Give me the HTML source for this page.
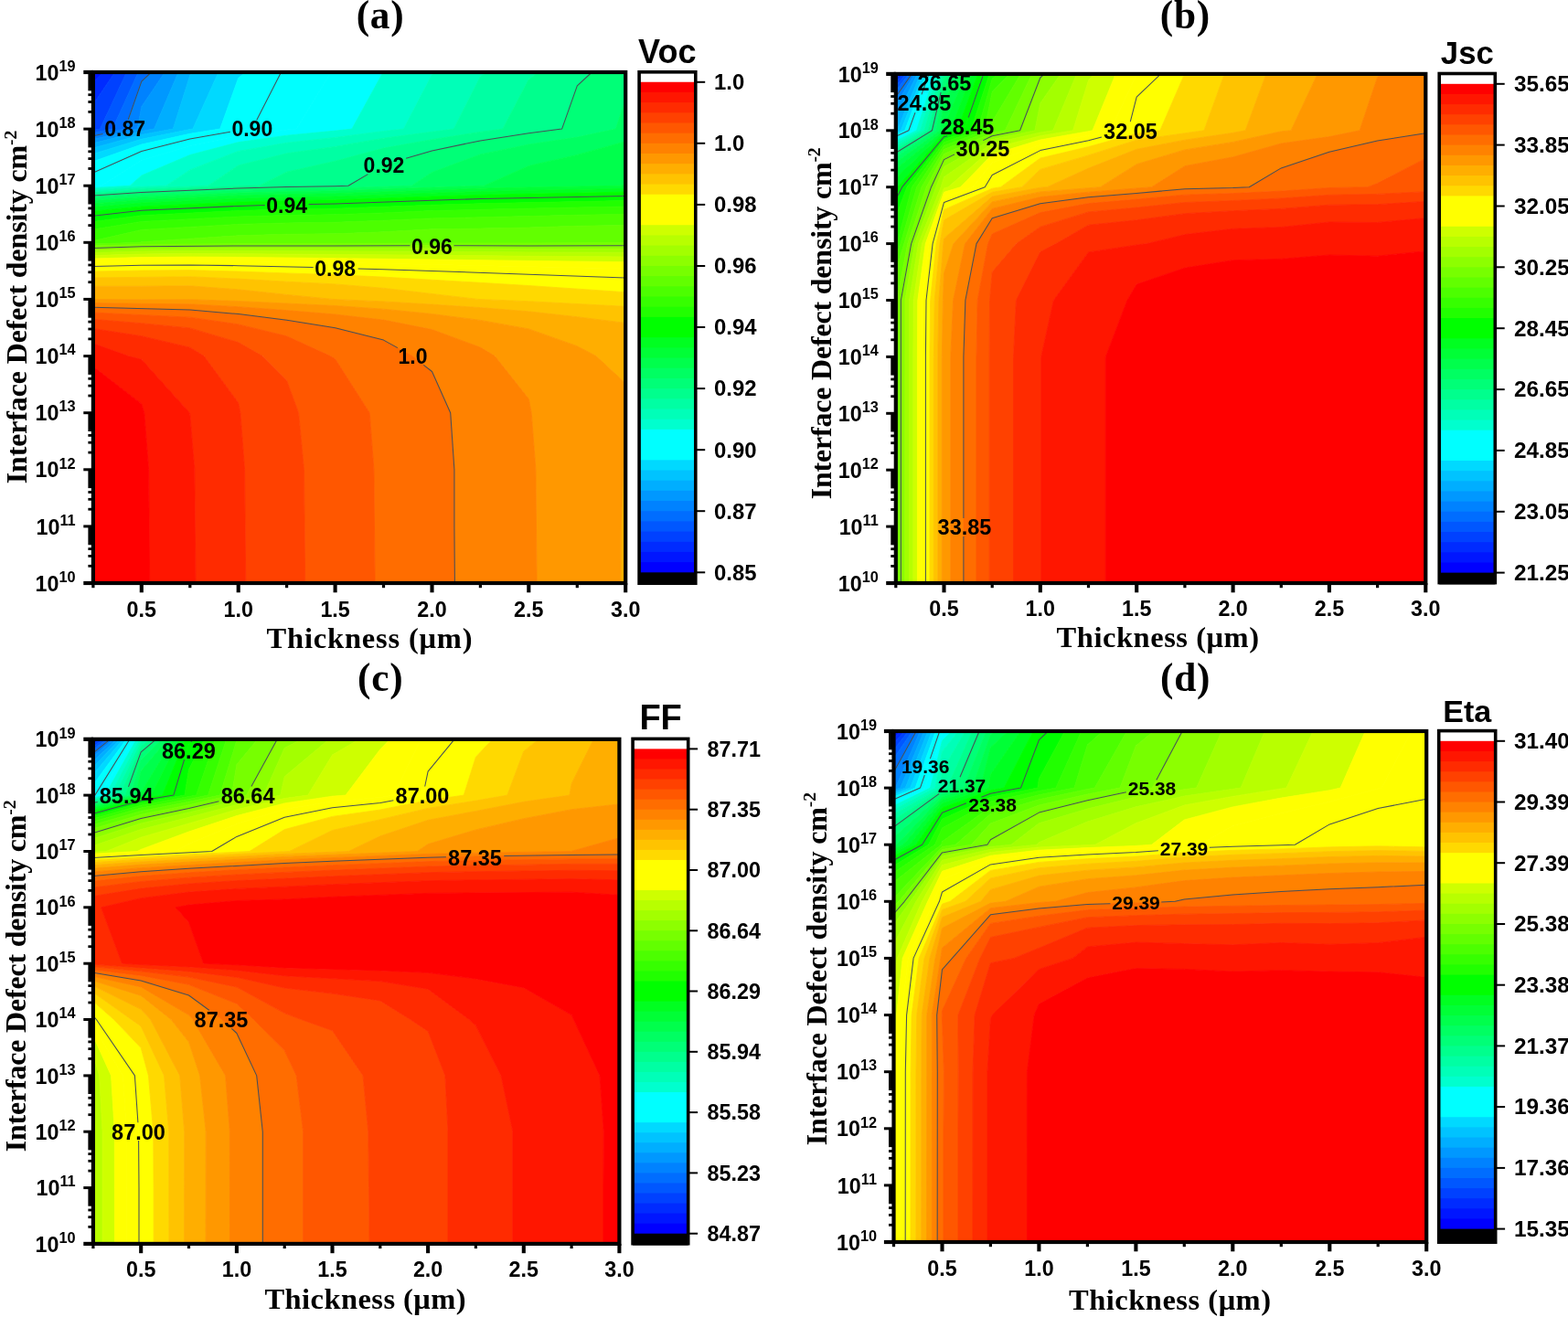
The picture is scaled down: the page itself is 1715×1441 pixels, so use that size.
<!DOCTYPE html>
<html lang="en">
<head>
<meta charset="utf-8">
<title>Contour plots: Voc, Jsc, FF, Eta vs thickness and interface defect density</title>
<style>
html,body{margin:0;padding:0;background:#fff;}
body{width:1715px;height:1441px;overflow:hidden;}
svg{display:block;}
text{white-space:pre;}
</style>
</head>
<body>
<svg width="1715" height="1441" viewBox="0 0 1715 1441">
<rect width="1715" height="1441" fill="#fff"/>
<g id="panel-a">
<g stroke-width="0.8" stroke-linejoin="round">
<path fill="#0016ff" stroke="#0016ff" d="M113.1,79 101.9,79 101.9,90.3 113.1,79Z"/>
<path fill="#002bff" stroke="#002bff" d="M125.8,79 113.1,79 101.9,90.3 101.9,114.2 125.8,79Z"/>
<path fill="#0041ff" stroke="#0041ff" d="M109.5,141.1 138.5,79 125.8,79 101.9,114.2 101.9,142.6 109.5,141.1Z"/>
<path fill="#0057ff" stroke="#0057ff" d="M123.1,141.1 151.2,79 138.5,79 109.5,141.1 101.9,142.6 101.9,145.5 123.1,141.1Z"/>
<path fill="#006dff" stroke="#006dff" d="M136.7,141.1 154.8,89.2 165.5,79 151.2,79 123.1,141.1 101.9,145.5 101.9,148.8 136.7,141.1Z"/>
<path fill="#0082ff" stroke="#0082ff" d="M150.3,141.1 154.8,116.7 180.3,79 165.5,79 154.8,89.2 136.7,141.1 101.9,148.8 101.9,152.5 150.3,141.1Z"/>
<path fill="#0098ff" stroke="#0098ff" d="M154.8,143.5 168.6,141.1 195.1,79 180.3,79 154.8,116.7 150.3,141.1 101.9,152.5 101.9,156.8 154.8,143.5Z"/>
<path fill="#00aeff" stroke="#00aeff" d="M154.8,147.5 189.3,141.1 207.8,82.6 211.7,79 195.1,79 168.6,141.1 154.8,143.5 101.9,156.8 101.9,162 154.8,147.5Z"/>
<path fill="#00c3ff" stroke="#00c3ff" d="M154.8,152.3 207.8,141.6 210.9,141.1 239,79 211.7,79 207.8,82.6 189.3,141.1 154.8,147.5 101.9,162 101.9,168.4 154.8,152.3Z"/>
<path fill="#00d9ff" stroke="#00d9ff" d="M154.8,158.1 207.8,146.3 240.7,141.1 260.7,85.4 268.6,79 239,79 210.9,141.1 207.8,141.6 154.8,152.3 101.9,168.4 101.9,176.7 154.8,158.1Z"/>
<path fill="#00ffff" stroke="#00ffff" d="M154.8,165.4 207.8,152.1 260.7,142.7 275.7,141.1 307.5,79 268.6,79 260.7,85.4 240.7,141.1 207.8,146.3 154.8,158.1 101.9,176.7 101.9,188.9 154.8,165.4Z"/>
<path fill="#00ffff" stroke="#00ffff" d="M110.6,203.2 154.8,175.6 207.8,159.4 260.7,148.4 313.6,142 324.4,141.1 362,79 307.5,79 275.7,141.1 260.7,142.7 207.8,152.1 154.8,165.4 101.9,188.9 101.9,203.7 110.6,203.2Z"/>
<path fill="#00ffff" stroke="#00ffff" d="M142.1,203.2 154.8,192 207.8,169.5 260.7,155.6 313.6,148.2 366.6,143.1 384.9,141.1 419,79 362,79 324.4,141.1 313.6,142 260.7,148.4 207.8,159.4 154.8,175.6 110.6,203.2 101.9,203.7 101.9,205.5 142.1,203.2Z"/>
<path fill="#00ffce" stroke="#00ffce" d="M154.8,204.3 181.9,203.2 207.8,185.9 260.7,165.4 313.6,156.3 366.6,150.4 419.5,143.5 441.5,141.1 472.5,81.6 475.9,79 419,79 384.9,141.1 366.6,143.1 313.6,148.2 260.7,155.6 207.8,169.5 154.8,192 142.1,203.2 101.9,205.5 101.9,207.4 154.8,204.3Z"/>
<path fill="#00ffb8" stroke="#00ffb8" d="M154.8,206.2 227.6,203.2 260.7,181 313.6,167.8 366.6,160.4 419.5,151.2 496.3,141.1 525.4,83.8 532.6,79 475.9,79 472.5,81.6 441.5,141.1 419.5,143.5 366.6,150.4 313.6,156.3 260.7,165.4 207.8,185.9 181.9,203.2 154.8,204.3 101.9,207.4 101.9,209.4 154.8,206.2Z"/>
<path fill="#00ffa3" stroke="#00ffa3" d="M154.8,208.3 260.7,203.8 283.4,203.2 313.6,188.2 366.6,176.3 419.5,162.1 472.5,152.7 525.4,144.4 549.9,141.1 578.3,87.1 588.9,79 532.6,79 525.4,83.8 496.3,141.1 419.5,151.2 366.6,160.4 313.6,167.8 260.7,181 227.6,203.2 154.8,206.2 101.9,209.4 101.9,211.6 154.8,208.3Z"/>
<path fill="#00ff8d" stroke="#00ff8d" d="M154.8,210.5 260.7,206 313.6,204.6 366.6,203.7 381,203.2 419.5,180.5 472.5,165.1 525.4,153.9 578.3,145.7 614.6,141.1 631.3,93.8 647.4,79 588.9,79 578.3,87.1 549.9,141.1 525.4,144.4 472.5,152.7 419.5,162.1 366.6,176.3 313.6,188.2 283.4,203.2 260.7,203.8 154.8,208.3 101.9,211.6 101.9,214 154.8,210.5Z"/>
<path fill="#00ff77" stroke="#00ff77" d="M154.8,213 260.7,208.4 313.6,207 366.6,206.1 450.2,203.2 472.5,188.5 525.4,168.9 578.3,158 631.3,150.1 673.4,141.1 684.2,108 684.2,79 647.4,79 631.3,93.8 614.6,141.1 578.3,145.7 525.4,153.9 472.5,165.1 419.5,180.5 381,203.2 366.6,203.7 313.6,204.6 260.7,206 154.8,210.5 101.9,214 101.9,216.7 154.8,213Z"/>
<path fill="#00ff62" stroke="#00ff62" d="M154.8,215.7 260.7,211.1 313.6,209.7 366.6,208.8 529.5,203.2 578.3,181.5 631.3,169.4 684.2,154.7 684.2,108 673.4,141.1 631.3,150.1 578.3,158 525.4,168.9 472.5,188.5 450.2,203.2 366.6,206.1 313.6,207 260.7,208.4 154.8,213 101.9,216.7 101.9,219.6 154.8,215.7Z"/>
<path fill="#00ff4c" stroke="#00ff4c" d="M154.8,218.7 260.7,214 313.6,212.6 366.6,211.7 525.4,206.2 578.3,205 679.9,203.2 684.2,199.7 684.2,154.7 631.3,169.4 578.3,181.5 529.5,203.2 366.6,208.8 313.6,209.7 260.7,211.1 154.8,215.7 101.9,219.6 101.9,222.9 154.8,218.7Z"/>
<path fill="#00ff36" stroke="#00ff36" d="M154.8,222 260.7,217.3 313.6,215.9 366.6,215 472.5,211.2 525.4,209.5 578.3,208.3 684.2,206.4 684.2,199.7 679.9,203.2 578.3,205 525.4,206.2 366.6,211.7 313.6,212.6 260.7,214 154.8,218.7 101.9,222.9 101.9,226.6 154.8,222Z"/>
<path fill="#00ff21" stroke="#00ff21" d="M154.8,225.9 260.7,221 313.6,219.6 366.6,218.8 472.5,214.9 525.4,213.3 578.3,212.1 684.2,210.1 684.2,206.4 578.3,208.3 525.4,209.5 472.5,211.2 366.6,215 313.6,215.9 260.7,217.3 154.8,222 101.9,226.6 101.9,231 154.8,225.9Z"/>
<path fill="#00ff00" stroke="#00ff00" d="M154.8,230.3 260.7,225.4 313.6,223.9 366.6,223.1 472.5,219.2 525.4,217.6 578.3,216.4 684.2,214.5 684.2,210.1 578.3,212.1 525.4,213.3 472.5,214.9 366.6,218.8 313.6,219.6 260.7,221 154.8,225.9 101.9,231 101.9,236.2 154.8,230.3Z"/>
<path fill="#00ff00" stroke="#00ff00" d="M154.8,235.7 260.7,230.6 313.6,229.1 366.6,228.3 472.5,224.3 525.4,222.8 684.2,219.6 684.2,214.5 578.3,216.4 525.4,217.6 472.5,219.2 366.6,223.1 313.6,223.9 260.7,225.4 154.8,230.3 101.9,236.2 101.9,242.6 154.8,235.7Z"/>
<path fill="#21ff00" stroke="#21ff00" d="M154.8,242.4 260.7,237 313.6,235.5 366.6,234.8 419.5,232.9 472.5,230.6 525.4,229.3 631.3,227 684.2,226 684.2,219.6 525.4,222.8 472.5,224.3 366.6,228.3 313.6,229.1 260.7,230.6 154.8,235.7 101.9,242.6 101.9,251.1 154.8,242.4Z"/>
<path fill="#36ff00" stroke="#36ff00" d="M154.8,251.4 260.7,245.4 313.6,244 366.6,243.3 419.5,241.3 472.5,238.9 578.3,236.6 631.3,235.3 684.2,234.4 684.2,226 631.3,227 525.4,229.3 472.5,230.6 419.5,232.9 366.6,234.8 313.6,235.5 260.7,237 154.8,242.4 101.9,251.1 101.9,263.5 154.8,251.4Z"/>
<path fill="#4cff00" stroke="#4cff00" d="M153.2,265.3 154.8,264.8 207.8,261.2 260.7,257.8 313.6,256.3 366.6,255.8 419.5,253.8 472.5,250.8 525.4,250.1 578.3,249.1 631.3,247.3 684.2,246.6 684.2,234.4 631.3,235.3 578.3,236.6 472.5,238.9 419.5,241.3 366.6,243.3 313.6,244 260.7,245.4 154.8,251.4 101.9,263.5 101.9,267.1 153.2,265.3Z"/>
<path fill="#62ff00" stroke="#62ff00" d="M154.8,267.4 260.7,266.6 366.6,266.5 472.5,266 578.3,266 684.2,265.7 684.2,246.6 631.3,247.3 578.3,249.1 525.4,250.1 472.5,250.8 419.5,253.8 366.6,255.8 313.6,256.3 260.7,257.8 207.8,261.2 154.8,264.8 153.2,265.3 101.9,267.1 101.9,269.1 154.8,267.4Z"/>
<path fill="#77ff00" stroke="#77ff00" d="M154.8,269.7 260.7,269 366.6,269 472.5,268.7 578.3,268.9 684.2,268.8 684.2,265.7 578.3,266 472.5,266 419.5,266.3 260.7,266.6 207.8,267 154.8,267.4 101.9,269.1 101.9,271.4 154.8,269.7Z"/>
<path fill="#8dff00" stroke="#8dff00" d="M154.8,272.2 207.8,271.8 260.7,271.6 366.6,271.8 472.5,271.8 578.3,272.2 684.2,272.3 684.2,268.8 578.3,268.9 472.5,268.7 366.6,269 260.7,269 207.8,269.3 154.8,269.7 101.9,271.4 101.9,273.9 154.8,272.2Z"/>
<path fill="#a3ff00" stroke="#a3ff00" d="M154.8,275 207.8,274.6 260.7,274.5 472.5,275.2 578.3,275.9 684.2,276.3 684.2,272.3 578.3,272.2 472.5,271.8 366.6,271.8 260.7,271.6 207.8,271.8 154.8,272.2 101.9,273.9 101.9,276.6 154.8,275Z"/>
<path fill="#b8ff00" stroke="#b8ff00" d="M154.8,278.1 207.8,277.6 260.7,277.7 472.5,279.2 578.3,280.3 684.2,281 684.2,276.3 578.3,275.9 472.5,275.2 260.7,274.5 207.8,274.6 154.8,275 101.9,276.6 101.9,279.6 154.8,278.1Z"/>
<path fill="#ceff00" stroke="#ceff00" d="M154.8,281.6 207.8,281.1 260.7,281.4 472.5,283.9 578.3,285.4 684.2,286.7 684.2,281 578.3,280.3 472.5,279.2 260.7,277.7 207.8,277.6 154.8,278.1 101.9,279.6 101.9,283 154.8,281.6Z"/>
<path fill="#ffff00" stroke="#ffff00" d="M154.8,285.6 207.8,285.1 260.7,285.7 366.6,287.3 684.2,293.9 684.2,286.7 366.6,282.6 260.7,281.4 207.8,281.1 154.8,281.6 101.9,283 101.9,286.9 154.8,285.6Z"/>
<path fill="#ffff00" stroke="#ffff00" d="M154.8,290.3 207.8,289.9 260.7,290.7 366.6,293.2 419.5,294.7 684.2,303.9 684.2,293.9 366.6,287.3 260.7,285.7 207.8,285.1 154.8,285.6 101.9,286.9 101.9,291.5 154.8,290.3Z"/>
<path fill="#ffff00" stroke="#ffff00" d="M154.8,296 207.8,295.6 260.7,297 313.6,298.9 366.6,300.6 419.5,303.1 525.4,309.3 578.3,312.5 684.2,319.7 684.2,303.9 419.5,294.7 366.6,293.2 260.7,290.7 207.8,289.9 154.8,290.3 101.9,291.5 101.9,297 154.8,296Z"/>
<path fill="#ffd900" stroke="#ffd900" d="M525.4,327.5 578.3,329.7 684.2,335.3 684.2,319.7 578.3,312.5 525.4,309.3 419.5,303.1 366.6,300.6 313.6,298.9 260.7,297 207.8,295.6 154.8,296 101.9,297 101.9,303.9 207.8,302.8 260.7,305.1 313.6,308.2 366.6,310.9 419.5,315.3 522.9,327.4 525.4,327.5Z"/>
<path fill="#ffc300" stroke="#ffc300" d="M366.6,327.5 419.5,329.9 472.5,333.1 525.4,336.6 578.3,340.8 631.3,346.7 684.2,353.4 684.2,335.3 578.3,329.7 522.9,327.4 419.5,315.3 366.6,310.9 313.6,308.2 260.7,305.1 207.8,302.8 101.9,303.9 101.9,313.2 154.8,313.2 207.8,312.8 260.7,316.8 313.6,322.4 364,327.4 366.6,327.5Z"/>
<path fill="#ffae00" stroke="#ffae00" d="M684.2,638 684.2,482.6 681.8,513.8 679,575.9 678.3,638 684.2,638ZM684.2,419.5 684.2,353.4 631.3,346.7 578.3,340.8 525.4,336.6 472.5,333.1 419.5,329.9 364,327.4 313.6,322.4 260.7,316.8 207.8,312.8 154.8,313.2 101.9,313.2 101.9,327.5 154.8,327.8 207.8,327.7 260.7,329.5 366.6,334.5 419.5,338.2 472.5,343.5 525.4,350.4 578.3,359.9 631.3,378.7 652,389.6 684.2,419.5Z"/>
<path fill="#ff9800" stroke="#ff9800" d="M631.3,638 678.3,638 679,575.9 681.8,513.8 684.2,482.6 684.2,419.5 652,389.6 631.3,378.7 578.3,359.9 525.4,350.4 472.5,343.5 419.5,338.2 366.6,334.5 260.7,329.5 207.8,327.7 154.8,327.8 101.9,327.5 101.9,331.5 154.8,332.3 207.8,332.8 260.7,335.7 313.6,339.6 366.6,344 419.5,350.1 472.5,360.6 525.4,380.1 541.1,389.6 578.3,436.6 581.2,451.7 585.9,513.8 587.1,638 631.3,638Z"/>
<path fill="#ff8200" stroke="#ff8200" d="M525.4,638 587.1,638 585.9,513.8 581.2,451.7 578.3,436.6 541.1,389.6 525.4,380.1 472.5,360.6 419.5,350.1 366.6,344 313.6,339.6 260.7,335.7 207.8,332.8 154.8,332.3 101.9,331.5 101.9,336.2 207.8,339 260.7,343.6 313.6,350.2 366.6,358.8 419.5,372.1 451.1,389.6 472.5,406.5 492.7,451.7 496.9,513.8 496.9,575.9 497.4,638 525.4,638Z"/>
<path fill="#ff6d00" stroke="#ff6d00" d="M419.5,638 497.4,638 496.9,575.9 496.9,513.8 492.7,451.7 472.5,406.5 451.1,389.6 419.5,372.1 366.6,358.8 313.6,350.2 260.7,343.6 207.8,339 101.9,336.2 101.9,342 207.8,347.2 260.7,354.9 313.6,367.8 361.2,389.6 366.6,392.8 404.2,451.7 408.9,513.8 410.1,638 419.5,638Z"/>
<path fill="#ff5700" stroke="#ff5700" d="M366.6,638 410.1,638 408.9,513.8 404.2,451.7 366.6,392.8 361.2,389.6 313.6,367.8 260.7,354.9 207.8,347.2 101.9,342 101.9,349.3 154.8,353.7 207.8,358.9 260.7,374.6 287,389.6 313.6,416.3 326.6,451.7 332.5,513.8 333.7,638 366.6,638Z"/>
<path fill="#ff4100" stroke="#ff4100" d="M313.6,638 333.7,638 332.5,513.8 326.6,451.7 313.6,416.3 287,389.6 260.7,374.6 207.8,358.9 154.8,353.7 101.9,349.3 101.9,359.5 154.8,367.7 207.8,380.2 223,389.6 260.7,440.8 262.9,451.7 267.6,513.8 268.1,575.9 268.8,638 313.6,638Z"/>
<path fill="#ff2b00" stroke="#ff2b00" d="M260.7,638 268.8,638 268.1,575.9 267.6,513.8 262.9,451.7 260.7,440.8 223,389.6 207.8,380.2 154.8,367.7 101.9,359.5 101.9,375.8 140.4,389.6 154.8,393.3 207.4,451.7 207.8,453.5 212.8,513.8 213.3,575.9 214,638 260.7,638Z"/>
<path fill="#ff1600" stroke="#ff1600" d="M207.8,638 214,638 213.3,575.9 212.8,513.8 207.8,453.5 207.4,451.7 154.8,393.3 140.4,389.6 101.9,375.8 101.9,401.1 154.8,441.9 157.8,451.7 162.6,513.8 163.7,638 207.8,638Z"/>
<path fill="#ff0000" stroke="#ff0000" d="M154.8,638 163.7,638 162.6,513.8 157.8,451.7 154.8,441.9 101.9,401.1 101.9,638 154.8,638Z"/>
</g>
<path fill="none" stroke="#465058" stroke-width="1.05" stroke-linejoin="round" d="M165.5,79 154.8,89.2 140.2,130.9M112.5,146.5 101.9,148.8M307.5,79 280.7,131.4M251.9,144.3 207.8,152.1 154.8,165.4 101.9,188.9M647.4,79 631.3,93.8 614.6,141.1 578.3,145.7 525.4,153.9 472.5,165.1 444.1,173.3M402.4,190.6 381,203.2 366.6,203.7 313.6,204.6 260.7,206 154.8,210.5 101.9,214M684.2,214.5 578.3,216.4 525.4,217.6 472.5,219.2 366.6,223.1 337.6,223.6M289.7,224.6 260.7,225.4 154.8,230.3 101.9,236.2M684.2,268.8 578.3,268.9 496.4,268.8M448.5,268.8 366.6,269 260.7,269 154.8,269.7 101.9,271.4M684.2,303.9 419.5,294.7 391.6,293.9M342.6,292.6 260.7,290.7 207.8,289.9 154.8,290.3 101.9,291.5M497.4,638 496.9,575.9 496.9,513.8 492.7,451.7 472.5,406.5 463.3,399.3M434.9,380.6 419.5,372.1 366.6,358.8 313.6,350.2 260.7,343.6 207.8,339 101.9,336.2"/>
<g font-family='"Liberation Sans", Arial, Helvetica, sans-serif' font-weight="bold" font-size="23.0" text-anchor="middle" fill="#000">
<text x="136.6" y="149.2">0.87</text>
<text x="275.8" y="149.2">0.90</text>
<text x="420" y="189.2">0.92</text>
<text x="313.7" y="232.7">0.94</text>
<text x="472.5" y="277.7">0.96</text>
<text x="366.7" y="302">0.98</text>
<text x="451.5" y="398.2">1.0</text>
</g>
<rect x="101.9" y="79" width="582.3" height="559" fill="none" stroke="#000" stroke-width="4.2"/>
<g stroke="#000"><line x1="101.9" y1="638" x2="101.9" y2="643.2" stroke-width="3.2"/><line x1="154.8" y1="638" x2="154.8" y2="648.3" stroke-width="4.1"/><line x1="207.8" y1="638" x2="207.8" y2="643.2" stroke-width="3.2"/><line x1="260.7" y1="638" x2="260.7" y2="648.3" stroke-width="4.1"/><line x1="313.6" y1="638" x2="313.6" y2="643.2" stroke-width="3.2"/><line x1="366.6" y1="638" x2="366.6" y2="648.3" stroke-width="4.1"/><line x1="419.5" y1="638" x2="419.5" y2="643.2" stroke-width="3.2"/><line x1="472.5" y1="638" x2="472.5" y2="648.3" stroke-width="4.1"/><line x1="525.4" y1="638" x2="525.4" y2="643.2" stroke-width="3.2"/><line x1="578.3" y1="638" x2="578.3" y2="648.3" stroke-width="4.1"/><line x1="631.3" y1="638" x2="631.3" y2="643.2" stroke-width="3.2"/><line x1="684.2" y1="638" x2="684.2" y2="648.3" stroke-width="4.1"/><line x1="91.3" y1="638" x2="101.9" y2="638" stroke-width="4.2"/><rect x="96.4" y="575.9" width="5.5" height="20.3" stroke="none"/><line x1="96.4" y1="600.6" x2="101.9" y2="600.6" stroke-width="2.8"/><line x1="96.4" y1="608.4" x2="101.9" y2="608.4" stroke-width="2.8"/><line x1="96.4" y1="619.3" x2="101.9" y2="619.3" stroke-width="2.8"/><line x1="91.3" y1="575.9" x2="101.9" y2="575.9" stroke-width="3"/><rect x="96.4" y="513.8" width="5.5" height="20.3" stroke="none"/><line x1="96.4" y1="538.5" x2="101.9" y2="538.5" stroke-width="2.8"/><line x1="96.4" y1="546.3" x2="101.9" y2="546.3" stroke-width="2.8"/><line x1="96.4" y1="557.2" x2="101.9" y2="557.2" stroke-width="2.8"/><line x1="91.3" y1="513.8" x2="101.9" y2="513.8" stroke-width="3"/><rect x="96.4" y="451.7" width="5.5" height="20.3" stroke="none"/><line x1="96.4" y1="476.4" x2="101.9" y2="476.4" stroke-width="2.8"/><line x1="96.4" y1="484.2" x2="101.9" y2="484.2" stroke-width="2.8"/><line x1="96.4" y1="495.1" x2="101.9" y2="495.1" stroke-width="2.8"/><line x1="91.3" y1="451.7" x2="101.9" y2="451.7" stroke-width="3"/><rect x="96.4" y="389.6" width="5.5" height="20.3" stroke="none"/><line x1="96.4" y1="414.3" x2="101.9" y2="414.3" stroke-width="2.8"/><line x1="96.4" y1="422.1" x2="101.9" y2="422.1" stroke-width="2.8"/><line x1="96.4" y1="433" x2="101.9" y2="433" stroke-width="2.8"/><line x1="91.3" y1="389.6" x2="101.9" y2="389.6" stroke-width="3"/><rect x="96.4" y="327.4" width="5.5" height="20.3" stroke="none"/><line x1="96.4" y1="352.1" x2="101.9" y2="352.1" stroke-width="2.8"/><line x1="96.4" y1="360" x2="101.9" y2="360" stroke-width="2.8"/><line x1="96.4" y1="370.9" x2="101.9" y2="370.9" stroke-width="2.8"/><line x1="91.3" y1="327.4" x2="101.9" y2="327.4" stroke-width="3"/><rect x="96.4" y="265.3" width="5.5" height="20.3" stroke="none"/><line x1="96.4" y1="290" x2="101.9" y2="290" stroke-width="2.8"/><line x1="96.4" y1="297.8" x2="101.9" y2="297.8" stroke-width="2.8"/><line x1="96.4" y1="308.7" x2="101.9" y2="308.7" stroke-width="2.8"/><line x1="91.3" y1="265.3" x2="101.9" y2="265.3" stroke-width="3"/><rect x="96.4" y="203.2" width="5.5" height="20.3" stroke="none"/><line x1="96.4" y1="227.9" x2="101.9" y2="227.9" stroke-width="2.8"/><line x1="96.4" y1="235.7" x2="101.9" y2="235.7" stroke-width="2.8"/><line x1="96.4" y1="246.6" x2="101.9" y2="246.6" stroke-width="2.8"/><line x1="91.3" y1="203.2" x2="101.9" y2="203.2" stroke-width="3"/><rect x="96.4" y="141.1" width="5.5" height="20.3" stroke="none"/><line x1="96.4" y1="165.8" x2="101.9" y2="165.8" stroke-width="2.8"/><line x1="96.4" y1="173.6" x2="101.9" y2="173.6" stroke-width="2.8"/><line x1="96.4" y1="184.5" x2="101.9" y2="184.5" stroke-width="2.8"/><line x1="91.3" y1="141.1" x2="101.9" y2="141.1" stroke-width="3"/><rect x="96.4" y="79" width="5.5" height="20.3" stroke="none"/><line x1="96.4" y1="103.7" x2="101.9" y2="103.7" stroke-width="2.8"/><line x1="96.4" y1="111.5" x2="101.9" y2="111.5" stroke-width="2.8"/><line x1="96.4" y1="122.4" x2="101.9" y2="122.4" stroke-width="2.8"/><line x1="91.3" y1="79" x2="101.9" y2="79" stroke-width="4.2"/></g>
<g font-family='"Liberation Sans", Arial, Helvetica, sans-serif' font-weight="bold" font-size="23.3" fill="#000">
<text x="154.8" y="674.6" text-anchor="middle">0.5</text>
<text x="260.7" y="674.6" text-anchor="middle">1.0</text>
<text x="366.6" y="674.6" text-anchor="middle">1.5</text>
<text x="472.5" y="674.6" text-anchor="middle">2.0</text>
<text x="578.3" y="674.6" text-anchor="middle">2.5</text>
<text x="684.2" y="674.6" text-anchor="middle">3.0</text>
<text x="82.6" y="646.6" text-anchor="end">10<tspan font-size="16.3" dy="-9.9">10</tspan></text>
<text x="82.6" y="584.5" text-anchor="end">10<tspan font-size="16.3" dy="-9.9">11</tspan></text>
<text x="82.6" y="522.4" text-anchor="end">10<tspan font-size="16.3" dy="-9.9">12</tspan></text>
<text x="82.6" y="460.3" text-anchor="end">10<tspan font-size="16.3" dy="-9.9">13</tspan></text>
<text x="82.6" y="398.2" text-anchor="end">10<tspan font-size="16.3" dy="-9.9">14</tspan></text>
<text x="82.6" y="336" text-anchor="end">10<tspan font-size="16.3" dy="-9.9">15</tspan></text>
<text x="82.6" y="273.9" text-anchor="end">10<tspan font-size="16.3" dy="-9.9">16</tspan></text>
<text x="82.6" y="211.8" text-anchor="end">10<tspan font-size="16.3" dy="-9.9">17</tspan></text>
<text x="82.6" y="149.7" text-anchor="end">10<tspan font-size="16.3" dy="-9.9">18</tspan></text>
<text x="82.6" y="87.6" text-anchor="end">10<tspan font-size="16.3" dy="-9.9">19</tspan></text>
</g>
<rect x="699.1" y="78.8" width="61.7" height="12.8" fill="#fff"/>
<rect x="699.1" y="89.75" width="61.7" height="12.18" fill="#ff0000"/>
<rect x="699.1" y="100.93" width="61.7" height="12.18" fill="#ff1600"/>
<rect x="699.1" y="112.11" width="61.7" height="12.18" fill="#ff2b00"/>
<rect x="699.1" y="123.28" width="61.7" height="12.18" fill="#ff4100"/>
<rect x="699.1" y="134.46" width="61.7" height="12.18" fill="#ff5700"/>
<rect x="699.1" y="145.64" width="61.7" height="12.18" fill="#ff6d00"/>
<rect x="699.1" y="156.82" width="61.7" height="12.18" fill="#ff8200"/>
<rect x="699.1" y="168.00" width="61.7" height="12.18" fill="#ff9800"/>
<rect x="699.1" y="179.17" width="61.7" height="12.18" fill="#ffae00"/>
<rect x="699.1" y="190.35" width="61.7" height="12.18" fill="#ffc300"/>
<rect x="699.1" y="201.53" width="61.7" height="12.18" fill="#ffd900"/>
<rect x="699.1" y="212.71" width="61.7" height="12.18" fill="#ffff00"/>
<rect x="699.1" y="223.89" width="61.7" height="12.18" fill="#ffff00"/>
<rect x="699.1" y="235.07" width="61.7" height="12.18" fill="#ffff00"/>
<rect x="699.1" y="246.24" width="61.7" height="12.18" fill="#ceff00"/>
<rect x="699.1" y="257.42" width="61.7" height="12.18" fill="#b8ff00"/>
<rect x="699.1" y="268.60" width="61.7" height="12.18" fill="#a3ff00"/>
<rect x="699.1" y="279.78" width="61.7" height="12.18" fill="#8dff00"/>
<rect x="699.1" y="290.96" width="61.7" height="12.18" fill="#77ff00"/>
<rect x="699.1" y="302.13" width="61.7" height="12.18" fill="#62ff00"/>
<rect x="699.1" y="313.31" width="61.7" height="12.18" fill="#4cff00"/>
<rect x="699.1" y="324.49" width="61.7" height="12.18" fill="#36ff00"/>
<rect x="699.1" y="335.67" width="61.7" height="12.18" fill="#21ff00"/>
<rect x="699.1" y="346.85" width="61.7" height="12.18" fill="#00ff00"/>
<rect x="699.1" y="358.02" width="61.7" height="12.18" fill="#00ff00"/>
<rect x="699.1" y="369.20" width="61.7" height="12.18" fill="#00ff21"/>
<rect x="699.1" y="380.38" width="61.7" height="12.18" fill="#00ff36"/>
<rect x="699.1" y="391.56" width="61.7" height="12.18" fill="#00ff4c"/>
<rect x="699.1" y="402.74" width="61.7" height="12.18" fill="#00ff62"/>
<rect x="699.1" y="413.92" width="61.7" height="12.18" fill="#00ff77"/>
<rect x="699.1" y="425.09" width="61.7" height="12.18" fill="#00ff8d"/>
<rect x="699.1" y="436.27" width="61.7" height="12.18" fill="#00ffa3"/>
<rect x="699.1" y="447.45" width="61.7" height="12.18" fill="#00ffb8"/>
<rect x="699.1" y="458.63" width="61.7" height="12.18" fill="#00ffce"/>
<rect x="699.1" y="469.81" width="61.7" height="12.18" fill="#00ffff"/>
<rect x="699.1" y="480.98" width="61.7" height="12.18" fill="#00ffff"/>
<rect x="699.1" y="492.16" width="61.7" height="12.18" fill="#00ffff"/>
<rect x="699.1" y="503.34" width="61.7" height="12.18" fill="#00d9ff"/>
<rect x="699.1" y="514.52" width="61.7" height="12.18" fill="#00c3ff"/>
<rect x="699.1" y="525.70" width="61.7" height="12.18" fill="#00aeff"/>
<rect x="699.1" y="536.88" width="61.7" height="12.18" fill="#0098ff"/>
<rect x="699.1" y="548.05" width="61.7" height="12.18" fill="#0082ff"/>
<rect x="699.1" y="559.23" width="61.7" height="12.18" fill="#006dff"/>
<rect x="699.1" y="570.41" width="61.7" height="12.18" fill="#0057ff"/>
<rect x="699.1" y="581.59" width="61.7" height="12.18" fill="#0041ff"/>
<rect x="699.1" y="592.77" width="61.7" height="12.18" fill="#002bff"/>
<rect x="699.1" y="603.94" width="61.7" height="12.18" fill="#0016ff"/>
<rect x="699.1" y="615.12" width="61.7" height="12.18" fill="#0000ff"/>
<rect x="699.1" y="626.3" width="61.7" height="13.7" fill="#000"/>
<rect x="699.1" y="78.8" width="61.7" height="559.4" fill="none" stroke="#000" stroke-width="3.6"/>
<g font-family='"Liberation Sans", Arial, Helvetica, sans-serif' font-weight="bold" font-size="23.9" fill="#000">
<text x="781" y="634.6">0.85</text>
<text x="781" y="567.5">0.87</text>
<text x="781" y="500.5">0.90</text>
<text x="781" y="433.4">0.92</text>
<text x="781" y="366.3">0.94</text>
<text x="781" y="299.3">0.96</text>
<text x="781" y="232.2">0.98</text>
<text x="781" y="165.1">1.0</text>
<text x="781" y="98">1.0</text>
</g>
<g stroke="#000" stroke-width="2"><line x1="761.6" y1="626.3" x2="771.2" y2="626.3"/><line x1="761.6" y1="559.2" x2="771.2" y2="559.2"/><line x1="761.6" y1="492.2" x2="771.2" y2="492.2"/><line x1="761.6" y1="425.1" x2="771.2" y2="425.1"/><line x1="761.6" y1="358" x2="771.2" y2="358"/><line x1="761.6" y1="291" x2="771.2" y2="291"/><line x1="761.6" y1="223.9" x2="771.2" y2="223.9"/><line x1="761.6" y1="156.8" x2="771.2" y2="156.8"/><line x1="761.6" y1="89.8" x2="771.2" y2="89.8"/></g>
<text x="729.8" y="69" text-anchor="middle" font-family='"Liberation Sans", Arial, Helvetica, sans-serif' font-weight="bold" font-size="36">Voc</text>
<text x="416" y="30.6" text-anchor="middle" letter-spacing="0.7" font-family='"Liberation Serif", "Times New Roman", Times, serif' font-weight="bold" font-size="43.3">(a)</text>
<text x="291.5" y="708.6" textLength="225" lengthAdjust="spacing" font-family='"Liberation Serif", "Times New Roman", Times, serif' font-weight="bold" font-size="32.5">Thickness (μm)</text>
<text transform="translate(29.4,529.3) rotate(-90)" textLength="386.7" lengthAdjust="spacing" font-family='"Liberation Serif", "Times New Roman", Times, serif' font-weight="bold" font-size="32">Interface Defect density cm<tspan font-size="19.8" dy="-11.5">-2</tspan></text>
</g>
<g id="panel-b">
<g stroke-width="0.8" stroke-linejoin="round">
<path fill="#0000ff" stroke="#0000ff" d="M981.5,80.9 979.8,80.9 979.8,82.6 981.5,80.9Z"/>
<path fill="#0016ff" stroke="#0016ff" d="M984.7,80.9 981.5,80.9 979.8,82.6 979.8,85.9 984.7,80.9Z"/>
<path fill="#002bff" stroke="#002bff" d="M987.8,80.9 984.7,80.9 979.8,85.9 979.8,89.7 987.8,80.9Z"/>
<path fill="#0041ff" stroke="#0041ff" d="M991,80.9 987.8,80.9 979.8,89.7 979.8,94.1 991,80.9Z"/>
<path fill="#0057ff" stroke="#0057ff" d="M994.1,80.9 991,80.9 979.8,94.1 979.8,99.4 994.1,80.9Z"/>
<path fill="#006dff" stroke="#006dff" d="M997.3,80.9 994.1,80.9 979.8,99.4 979.8,106 997.3,80.9Z"/>
<path fill="#0082ff" stroke="#0082ff" d="M1000.4,80.9 997.3,80.9 979.8,106 979.8,114.8 1000.4,80.9Z"/>
<path fill="#0098ff" stroke="#0098ff" d="M1003.5,80.9 1000.4,80.9 979.8,114.8 979.8,127.8 1003.5,80.9Z"/>
<path fill="#00aeff" stroke="#00aeff" d="M981.2,142.8 1006.7,80.9 1003.5,80.9 979.8,127.8 979.8,143.4 981.2,142.8Z"/>
<path fill="#00c3ff" stroke="#00c3ff" d="M985.4,142.8 1009.8,80.9 1006.7,80.9 981.2,142.8 979.8,143.4 979.8,145.2 985.4,142.8Z"/>
<path fill="#00d9ff" stroke="#00d9ff" d="M989.7,142.8 1013,80.9 1009.8,80.9 985.4,142.8 979.8,145.2 979.8,147.1 989.7,142.8Z"/>
<path fill="#00ffff" stroke="#00ffff" d="M993.9,142.8 1016.1,80.9 1013,80.9 989.7,142.8 979.8,147.1 979.8,149.2 993.9,142.8Z"/>
<path fill="#00ffff" stroke="#00ffff" d="M998.2,142.8 1019.3,80.9 1016.1,80.9 993.9,142.8 979.8,149.2 979.8,151.5 998.2,142.8Z"/>
<path fill="#00ffff" stroke="#00ffff" d="M1002.4,142.8 1022.4,80.9 1019.3,80.9 998.2,142.8 979.8,151.5 979.8,154 1002.4,142.8Z"/>
<path fill="#00ffce" stroke="#00ffce" d="M1006.6,142.8 1025.6,80.9 1022.4,80.9 1002.4,142.8 979.8,154 979.8,156.8 1006.6,142.8Z"/>
<path fill="#00ffb8" stroke="#00ffb8" d="M1010.9,142.8 1028.7,80.9 1025.6,80.9 1006.6,142.8 979.8,156.8 979.8,159.9 1010.9,142.8Z"/>
<path fill="#00ffa3" stroke="#00ffa3" d="M1015.1,142.8 1031.8,80.9 1028.7,80.9 1010.9,142.8 979.8,159.9 979.8,163.3 1015.1,142.8Z"/>
<path fill="#00ff8d" stroke="#00ff8d" d="M1019.4,142.8 1032.5,86.4 1037.6,80.9 1031.8,80.9 1015.1,142.8 979.8,163.3 979.8,167.3 1019.4,142.8Z"/>
<path fill="#00ff77" stroke="#00ff77" d="M1023.6,142.8 1032.5,95.4 1043.9,80.9 1037.6,80.9 1032.5,86.4 1019.4,142.8 979.8,167.3 979.8,172 1023.6,142.8Z"/>
<path fill="#00ff62" stroke="#00ff62" d="M1027.9,142.8 1032.5,109.1 1050.3,80.9 1043.9,80.9 1032.5,95.4 1023.6,142.8 979.8,172 979.8,177.7 1027.9,142.8Z"/>
<path fill="#00ff4c" stroke="#00ff4c" d="M1032.1,142.8 1032.5,138.1 1056.7,80.9 1050.3,80.9 1032.5,109.1 1027.9,142.8 979.8,177.7 979.8,184.9 1032.1,142.8Z"/>
<path fill="#00ff36" stroke="#00ff36" d="M1032.5,144.8 1039.4,142.8 1063.1,80.9 1056.7,80.9 1032.5,138.1 1032.1,142.8 979.8,184.9 979.8,194.7 1032.5,144.8Z"/>
<path fill="#00ff21" stroke="#00ff21" d="M981.4,204.7 1032.5,147.1 1046.8,142.8 1069.5,80.9 1063.1,80.9 1039.4,142.8 1032.5,144.8 979.8,194.7 979.8,207.3 981.4,204.7Z"/>
<path fill="#00ff00" stroke="#00ff00" d="M986.7,204.7 1032.5,149.7 1054.3,142.8 1075.8,80.9 1069.5,80.9 1046.8,142.8 1032.5,147.1 981.4,204.7 979.8,207.3 979.8,218.2 986.7,204.7Z"/>
<path fill="#00ff00" stroke="#00ff00" d="M992,204.7 1032.5,152.6 1061.8,142.8 1082.2,80.9 1075.8,80.9 1054.3,142.8 1032.5,149.7 986.7,204.7 979.8,218.2 979.8,236.7 992,204.7Z"/>
<path fill="#21ff00" stroke="#21ff00" d="M981.1,266.6 997.3,204.7 1032.5,155.8 1069.3,142.8 1085.2,86.3 1091.8,80.9 1082.2,80.9 1061.8,142.8 1032.5,152.6 992,204.7 979.8,236.7 979.8,269.3 981.1,266.6Z"/>
<path fill="#36ff00" stroke="#36ff00" d="M985,266.6 1002.6,204.7 1032.5,159.4 1076.7,142.8 1085.2,100.6 1104.1,80.9 1091.8,80.9 1085.2,86.3 1069.3,142.8 1032.5,155.8 997.3,204.7 981.1,266.6 979.8,269.3 979.8,279.6 985,266.6Z"/>
<path fill="#4cff00" stroke="#4cff00" d="M988.9,266.6 1007.9,204.7 1032.5,163.6 1084.2,142.8 1085.2,133.3 1116.4,80.9 1104.1,80.9 1085.2,100.6 1076.7,142.8 1032.5,159.4 1002.6,204.7 985,266.6 979.8,279.6 979.8,296.6 988.9,266.6Z"/>
<path fill="#62ff00" stroke="#62ff00" d="M981,576.1 981,390.4 980.8,328.5 992.8,266.6 1013.2,204.7 1032.5,168.6 1085.2,145.4 1099.4,142.8 1128.7,80.9 1116.4,80.9 1085.2,133.3 1084.2,142.8 1032.5,163.6 1007.9,204.7 979.8,296.6 979.8,638 981,638 981,576.1Z"/>
<path fill="#77ff00" stroke="#77ff00" d="M985.5,576.1 985.4,328.5 996.7,266.6 1018.5,204.7 1032.5,174.6 1085.2,148.8 1115.6,142.8 1137.8,85 1142.4,80.9 1128.7,80.9 1099.4,142.8 1085.2,145.4 1032.5,168.6 1013.2,204.7 992.8,266.6 980.8,328.5 981,390.4 981,638 985.4,638 985.5,576.1Z"/>
<path fill="#8dff00" stroke="#8dff00" d="M989.9,576.1 990,328.5 1000.6,266.6 1023.8,204.7 1032.5,182.5 1085.2,152.6 1131.9,142.8 1137.8,112.9 1160,80.9 1142.4,80.9 1137.8,85 1115.6,142.8 1085.2,148.8 1032.5,174.6 1018.5,204.7 996.7,266.6 985.4,328.5 985.4,638 989.9,638 989.9,576.1Z"/>
<path fill="#a3ff00" stroke="#a3ff00" d="M994.4,576.1 994.6,328.5 1004.5,266.6 1029.1,204.7 1032.5,193.8 1085.2,157.1 1137.8,144.9 1151.7,142.8 1177.6,80.9 1160,80.9 1137.8,112.9 1131.9,142.8 1085.2,152.6 1032.5,182.5 1023.8,204.7 1000.6,266.6 990,328.5 989.9,638 994.4,638 994.4,576.1Z"/>
<path fill="#b8ff00" stroke="#b8ff00" d="M998.9,576.1 998.9,390.4 999.2,328.5 1008.4,266.6 1032.5,206 1037.2,204.7 1085.2,162.4 1137.8,148.7 1173.6,142.8 1190.5,88 1196.9,80.9 1177.6,80.9 1151.7,142.8 1137.8,144.9 1085.2,157.1 1032.5,193.8 1029.1,204.7 1004.5,266.6 994.6,328.5 994.4,638 998.9,638 998.9,576.1Z"/>
<path fill="#ceff00" stroke="#ceff00" d="M1003.4,576.1 1003.4,390.4 1003.8,328.5 1012.3,266.6 1032.5,210.3 1050.5,204.7 1085.2,169.1 1137.8,153 1190.5,143.7 1195,142.8 1220.3,80.9 1196.9,80.9 1190.5,88 1173.6,142.8 1137.8,148.7 1085.2,162.4 1037.2,204.7 1032.5,206 1008.4,266.6 999.2,328.5 998.9,390.4 998.9,638 1003.4,638 1003.4,576.1Z"/>
<path fill="#ffff00" stroke="#ffff00" d="M1007.9,576.1 1007.9,390.4 1008.4,328.5 1016.2,266.6 1032.5,215.3 1063.9,204.7 1085.2,178 1137.8,158.2 1190.5,148.3 1214.4,142.8 1243.2,81.3 1243.9,80.9 1220.3,80.9 1195,142.8 1190.5,143.7 1137.8,153 1085.2,169.1 1050.5,204.7 1032.5,210.3 1012.3,266.6 1003.8,328.5 1003.4,390.4 1003.4,638 1007.9,638 1007.9,576.1Z"/>
<path fill="#ffff00" stroke="#ffff00" d="M1012.4,576.1 1012.4,390.4 1013,328.5 1020.1,266.6 1032.5,221.4 1077.2,204.7 1085.2,191.5 1137.8,164.6 1190.5,153.8 1233.8,142.8 1243.2,106.2 1269.7,80.9 1243.9,80.9 1243.2,81.3 1214.4,142.8 1190.5,148.3 1137.8,158.2 1085.2,178 1063.9,204.7 1032.5,215.3 1016.2,266.6 1008.4,328.5 1007.9,390.4 1007.9,638 1012.4,638 1012.4,576.1Z"/>
<path fill="#ffff00" stroke="#ffff00" d="M1016.9,576.1 1016.9,390.4 1017.6,328.5 1024,266.6 1032.5,229.4 1085.2,206.2 1094.5,204.7 1137.8,173 1190.5,160.6 1243.2,145.9 1268.8,142.8 1295.6,80.9 1269.7,80.9 1243.2,106.2 1233.8,142.8 1190.5,153.8 1137.8,164.6 1085.2,191.5 1077.2,204.7 1032.5,221.4 1020.1,266.6 1013,328.5 1012.4,390.4 1012.4,638 1016.9,638 1016.9,576.1Z"/>
<path fill="#ffd900" stroke="#ffd900" d="M1021.4,576.1 1021.4,390.4 1022.2,328.5 1027.9,266.6 1032.5,240.8 1085.2,210.3 1117.6,204.7 1137.8,185.4 1190.5,169.9 1243.2,153.2 1316.9,142.8 1339.3,80.9 1295.6,80.9 1268.8,142.8 1243.2,145.9 1190.5,160.6 1137.8,173 1094.5,204.7 1085.2,206.2 1032.5,229.4 1024,266.6 1017.6,328.5 1016.9,390.4 1016.9,638 1021.4,638 1021.4,576.1Z"/>
<path fill="#ffc300" stroke="#ffc300" d="M1025.8,576.1 1025.8,390.4 1026.8,328.5 1031.8,266.6 1032.5,260.9 1085.2,215.1 1137.8,205.2 1145.3,204.7 1190.5,184.1 1243.2,163.3 1295.9,153.2 1348.6,145.3 1362.1,142.8 1384.9,80.9 1339.3,80.9 1316.9,142.8 1243.2,153.2 1190.5,169.9 1137.8,185.4 1117.6,204.7 1085.2,210.3 1032.5,240.8 1027.9,266.6 1022.2,328.5 1021.4,390.4 1021.4,638 1025.8,638 1025.8,576.1Z"/>
<path fill="#ffae00" stroke="#ffae00" d="M1030.3,576.1 1030.3,390.4 1031.4,328.5 1032.5,298.8 1042.9,266.6 1085.2,220.9 1137.8,209.9 1203.4,204.7 1243.2,179.7 1295.9,163.9 1348.6,155.4 1401.3,143.8 1412,142.8 1441,80.9 1384.9,80.9 1362.1,142.8 1348.6,145.3 1295.9,153.2 1243.2,163.3 1190.5,184.1 1145.3,204.7 1137.8,205.2 1085.2,215.1 1032.5,260.9 1031.8,266.6 1026.8,328.5 1025.8,390.4 1025.8,638 1030.3,638 1030.3,576.1Z"/>
<path fill="#ff9800" stroke="#ff9800" d="M1032.5,638 1039.8,638 1039.8,390.4 1042.6,328.5 1055.5,266.6 1085.2,228.4 1137.8,215.6 1190.5,210.2 1259.6,204.7 1295.9,181.7 1348.6,171.8 1401.3,157 1453.9,149.6 1487.1,142.8 1506.6,84.4 1511.3,80.9 1441,80.9 1412,142.8 1401.3,143.8 1348.6,155.4 1295.9,163.9 1243.2,179.7 1203.4,204.7 1137.8,209.9 1085.2,220.9 1042.9,266.6 1032.5,298.8 1031.4,328.5 1030.3,390.4 1030.3,638 1032.5,638Z"/>
<path fill="#ff8200" stroke="#ff8200" d="M1053.9,576.1 1053.9,390.4 1055.9,328.5 1068,266.6 1085.2,238.8 1137.8,222.7 1190.5,215.7 1243.2,211.4 1295.9,206.8 1348.6,205.6 1366.3,204.7 1401.3,183.9 1453.9,166.3 1506.6,154.1 1559.3,145.7 1559.3,80.9 1511.3,80.9 1506.6,84.4 1487.1,142.8 1453.9,149.6 1401.3,157 1348.6,171.8 1295.9,181.7 1259.6,204.7 1190.5,210.2 1137.8,215.6 1085.2,228.4 1055.5,266.6 1042.6,328.5 1039.8,390.4 1039.8,638 1053.9,638 1053.9,576.1Z"/>
<path fill="#ff6d00" stroke="#ff6d00" d="M1068,576.1 1068,390.4 1069.2,328.5 1080.6,266.6 1085.2,256 1137.8,232.6 1190.5,222.6 1243.2,218.1 1295.9,213.2 1348.6,211.6 1401.3,209.1 1453.9,205.5 1495.8,204.7 1506.6,200.6 1559.3,173.4 1559.3,145.7 1506.6,154.1 1453.9,166.3 1401.3,183.9 1366.3,204.7 1348.6,205.6 1295.9,206.8 1243.2,211.4 1190.5,215.7 1137.8,222.7 1085.2,238.8 1068,266.6 1055.9,328.5 1053.9,390.4 1053.9,638 1068,638 1068,576.1Z"/>
<path fill="#ff5700" stroke="#ff5700" d="M1082.1,576.1 1082.1,390.4 1082.5,328.5 1085.2,297.6 1111.7,266.6 1137.8,248.2 1190.5,231.9 1243.2,227.1 1295.9,221.5 1348.6,219.5 1401.3,217 1453.9,213.3 1506.6,212.4 1559.3,209.7 1559.3,173.4 1506.6,200.6 1495.8,204.7 1453.9,205.5 1401.3,209.1 1348.6,211.6 1295.9,213.2 1243.2,218.1 1190.5,222.6 1137.8,232.6 1085.2,256 1080.6,266.6 1069.2,328.5 1068,390.4 1068,638 1082.1,638 1082.1,576.1Z"/>
<path fill="#ff4100" stroke="#ff4100" d="M1085.2,638 1108.5,638 1108.5,390.4 1111.4,328.5 1137.8,275.6 1155.2,266.6 1190.5,246.2 1243.2,240.8 1295.9,233.7 1348.6,230.7 1401.3,228.4 1453.9,224.2 1506.6,223.7 1559.3,220.4 1559.3,209.7 1506.6,212.4 1453.9,213.3 1401.3,217 1348.6,219.5 1295.9,221.5 1243.2,227.1 1190.5,231.9 1137.8,248.2 1111.7,266.6 1085.2,297.6 1082.5,328.5 1082.1,390.4 1082.1,638 1085.2,638Z"/>
<path fill="#ff2b00" stroke="#ff2b00" d="M1137.8,638 1138.7,638 1138.7,390.4 1152.4,328.5 1190.5,275.9 1243.2,268 1254.7,266.6 1295.9,256.6 1348.6,250.3 1401.3,248.5 1453.9,243 1506.6,243.5 1559.3,238.5 1559.3,220.4 1506.6,223.7 1453.9,224.2 1401.3,228.4 1348.6,230.7 1295.9,233.7 1243.2,240.8 1190.5,246.2 1155.2,266.6 1137.8,275.6 1111.4,328.5 1108.5,390.4 1108.5,638 1137.8,638Z"/>
<path fill="#ff1600" stroke="#ff1600" d="M1190.5,638 1209.3,638 1209.3,390.4 1232.9,328.5 1243.2,311.1 1295.9,293.1 1348.6,284.7 1401.3,283.3 1453.9,279 1506.6,280.2 1559.3,274.7 1559.3,238.5 1506.6,243.5 1453.9,243 1401.3,248.5 1348.6,250.3 1295.9,256.6 1254.7,266.6 1243.2,268 1190.5,275.9 1152.4,328.5 1138.7,390.4 1138.7,638 1190.5,638Z"/>
<path fill="#ff0000" stroke="#ff0000" d="M1243.2,638 1559.3,638 1559.3,274.7 1506.6,280.2 1453.9,279 1401.3,283.3 1348.6,284.7 1295.9,293.1 1243.2,311.1 1232.9,328.5 1209.3,390.4 1209.3,638 1243.2,638Z"/>
</g>
<path fill="none" stroke="#465058" stroke-width="1.05" stroke-linejoin="round" d="M997.3,80.9 979.8,106M1016.1,80.9 1008,103.4M1001,123.1 993.9,142.8 979.8,149.2M1037.6,80.9 1036.9,81.6M1029.1,101 1019.4,142.8 979.8,167.3M1075.8,80.9 1059.2,128.7M1036.3,148.5 1032.5,149.7 986.7,204.7 979.8,218.2M1142.4,80.9 1137.8,85 1115.6,142.8 1085.2,148.8 1075.3,153.6M1044.1,168.9 1032.5,174.6 1018.5,204.7 996.7,266.6 985.4,328.5 985.4,638M1269.7,80.9 1243.2,106.2 1236.3,133.2M1204.9,150.1 1190.5,153.8 1137.8,164.6 1085.2,191.5 1077.2,204.7 1032.5,221.4 1020.1,266.6 1013,328.5 1012.4,390.4 1012.4,638M1559.3,145.7 1506.6,154.1 1453.9,166.3 1401.3,183.9 1366.3,204.7 1348.6,205.6 1295.9,206.8 1243.2,211.4 1190.5,215.7 1137.8,222.7 1085.2,238.8 1068,266.6 1055.9,328.5 1053.9,390.4 1053.9,567.1M1053.9,587.1 1053.9,638"/>
<g font-family='"Liberation Sans", Arial, Helvetica, sans-serif' font-weight="bold" font-size="23.5" text-anchor="middle" fill="#000">
<text x="1033" y="99.4">26.65</text>
<text x="1011" y="121.4">24.85</text>
<text x="1058" y="147.4">28.45</text>
<text x="1075" y="171.4">30.25</text>
<text x="1236.5" y="151.9">32.05</text>
<text x="1055" y="585.1">33.85</text>
</g>
<rect x="979.8" y="80.9" width="579.5" height="557.1" fill="none" stroke="#000" stroke-width="4.2"/>
<g stroke="#000"><line x1="979.8" y1="638" x2="979.8" y2="643.2" stroke-width="3.2"/><line x1="1032.5" y1="638" x2="1032.5" y2="648.3" stroke-width="4.1"/><line x1="1085.2" y1="638" x2="1085.2" y2="643.2" stroke-width="3.2"/><line x1="1137.8" y1="638" x2="1137.8" y2="648.3" stroke-width="4.1"/><line x1="1190.5" y1="638" x2="1190.5" y2="643.2" stroke-width="3.2"/><line x1="1243.2" y1="638" x2="1243.2" y2="648.3" stroke-width="4.1"/><line x1="1295.9" y1="638" x2="1295.9" y2="643.2" stroke-width="3.2"/><line x1="1348.6" y1="638" x2="1348.6" y2="648.3" stroke-width="4.1"/><line x1="1401.3" y1="638" x2="1401.3" y2="643.2" stroke-width="3.2"/><line x1="1453.9" y1="638" x2="1453.9" y2="648.3" stroke-width="4.1"/><line x1="1506.6" y1="638" x2="1506.6" y2="643.2" stroke-width="3.2"/><line x1="1559.3" y1="638" x2="1559.3" y2="648.3" stroke-width="4.1"/><line x1="969.2" y1="638" x2="979.8" y2="638" stroke-width="4.2"/><rect x="974.3" y="576.1" width="5.5" height="20.2" stroke="none"/><line x1="974.3" y1="600.7" x2="979.8" y2="600.7" stroke-width="2.8"/><line x1="974.3" y1="608.5" x2="979.8" y2="608.5" stroke-width="2.8"/><line x1="974.3" y1="619.4" x2="979.8" y2="619.4" stroke-width="2.8"/><line x1="969.2" y1="576.1" x2="979.8" y2="576.1" stroke-width="3"/><rect x="974.3" y="514.2" width="5.5" height="20.2" stroke="none"/><line x1="974.3" y1="538.8" x2="979.8" y2="538.8" stroke-width="2.8"/><line x1="974.3" y1="546.6" x2="979.8" y2="546.6" stroke-width="2.8"/><line x1="974.3" y1="557.5" x2="979.8" y2="557.5" stroke-width="2.8"/><line x1="969.2" y1="514.2" x2="979.8" y2="514.2" stroke-width="3"/><rect x="974.3" y="452.3" width="5.5" height="20.2" stroke="none"/><line x1="974.3" y1="476.9" x2="979.8" y2="476.9" stroke-width="2.8"/><line x1="974.3" y1="484.7" x2="979.8" y2="484.7" stroke-width="2.8"/><line x1="974.3" y1="495.6" x2="979.8" y2="495.6" stroke-width="2.8"/><line x1="969.2" y1="452.3" x2="979.8" y2="452.3" stroke-width="3"/><rect x="974.3" y="390.4" width="5.5" height="20.2" stroke="none"/><line x1="974.3" y1="415" x2="979.8" y2="415" stroke-width="2.8"/><line x1="974.3" y1="422.8" x2="979.8" y2="422.8" stroke-width="2.8"/><line x1="974.3" y1="433.7" x2="979.8" y2="433.7" stroke-width="2.8"/><line x1="969.2" y1="390.4" x2="979.8" y2="390.4" stroke-width="3"/><rect x="974.3" y="328.5" width="5.5" height="20.2" stroke="none"/><line x1="974.3" y1="353.1" x2="979.8" y2="353.1" stroke-width="2.8"/><line x1="974.3" y1="360.9" x2="979.8" y2="360.9" stroke-width="2.8"/><line x1="974.3" y1="371.8" x2="979.8" y2="371.8" stroke-width="2.8"/><line x1="969.2" y1="328.5" x2="979.8" y2="328.5" stroke-width="3"/><rect x="974.3" y="266.6" width="5.5" height="20.2" stroke="none"/><line x1="974.3" y1="291.2" x2="979.8" y2="291.2" stroke-width="2.8"/><line x1="974.3" y1="299" x2="979.8" y2="299" stroke-width="2.8"/><line x1="974.3" y1="309.9" x2="979.8" y2="309.9" stroke-width="2.8"/><line x1="969.2" y1="266.6" x2="979.8" y2="266.6" stroke-width="3"/><rect x="974.3" y="204.7" width="5.5" height="20.2" stroke="none"/><line x1="974.3" y1="229.3" x2="979.8" y2="229.3" stroke-width="2.8"/><line x1="974.3" y1="237.1" x2="979.8" y2="237.1" stroke-width="2.8"/><line x1="974.3" y1="248" x2="979.8" y2="248" stroke-width="2.8"/><line x1="969.2" y1="204.7" x2="979.8" y2="204.7" stroke-width="3"/><rect x="974.3" y="142.8" width="5.5" height="20.2" stroke="none"/><line x1="974.3" y1="167.4" x2="979.8" y2="167.4" stroke-width="2.8"/><line x1="974.3" y1="175.2" x2="979.8" y2="175.2" stroke-width="2.8"/><line x1="974.3" y1="186.1" x2="979.8" y2="186.1" stroke-width="2.8"/><line x1="969.2" y1="142.8" x2="979.8" y2="142.8" stroke-width="3"/><rect x="974.3" y="80.9" width="5.5" height="20.2" stroke="none"/><line x1="974.3" y1="105.5" x2="979.8" y2="105.5" stroke-width="2.8"/><line x1="974.3" y1="113.3" x2="979.8" y2="113.3" stroke-width="2.8"/><line x1="974.3" y1="124.2" x2="979.8" y2="124.2" stroke-width="2.8"/><line x1="969.2" y1="80.9" x2="979.8" y2="80.9" stroke-width="4.2"/></g>
<g font-family='"Liberation Sans", Arial, Helvetica, sans-serif' font-weight="bold" font-size="23.3" fill="#000">
<text x="1032.5" y="673.8" text-anchor="middle">0.5</text>
<text x="1137.8" y="673.8" text-anchor="middle">1.0</text>
<text x="1243.2" y="673.8" text-anchor="middle">1.5</text>
<text x="1348.6" y="673.8" text-anchor="middle">2.0</text>
<text x="1453.9" y="673.8" text-anchor="middle">2.5</text>
<text x="1559.3" y="673.8" text-anchor="middle">3.0</text>
<text x="960.8" y="646.6" text-anchor="end">10<tspan font-size="16.3" dy="-9.9">10</tspan></text>
<text x="960.8" y="584.7" text-anchor="end">10<tspan font-size="16.3" dy="-9.9">11</tspan></text>
<text x="960.8" y="522.8" text-anchor="end">10<tspan font-size="16.3" dy="-9.9">12</tspan></text>
<text x="960.8" y="460.9" text-anchor="end">10<tspan font-size="16.3" dy="-9.9">13</tspan></text>
<text x="960.8" y="399" text-anchor="end">10<tspan font-size="16.3" dy="-9.9">14</tspan></text>
<text x="960.8" y="337.1" text-anchor="end">10<tspan font-size="16.3" dy="-9.9">15</tspan></text>
<text x="960.8" y="275.2" text-anchor="end">10<tspan font-size="16.3" dy="-9.9">16</tspan></text>
<text x="960.8" y="213.3" text-anchor="end">10<tspan font-size="16.3" dy="-9.9">17</tspan></text>
<text x="960.8" y="151.4" text-anchor="end">10<tspan font-size="16.3" dy="-9.9">18</tspan></text>
<text x="960.8" y="89.5" text-anchor="end">10<tspan font-size="16.3" dy="-9.9">19</tspan></text>
</g>
<rect x="1574.2" y="80.5" width="61.1" height="13.1" fill="#fff"/>
<rect x="1574.2" y="91.80" width="61.1" height="12.14" fill="#ff0000"/>
<rect x="1574.2" y="102.94" width="61.1" height="12.14" fill="#ff1600"/>
<rect x="1574.2" y="114.08" width="61.1" height="12.14" fill="#ff2b00"/>
<rect x="1574.2" y="125.22" width="61.1" height="12.14" fill="#ff4100"/>
<rect x="1574.2" y="136.37" width="61.1" height="12.14" fill="#ff5700"/>
<rect x="1574.2" y="147.51" width="61.1" height="12.14" fill="#ff6d00"/>
<rect x="1574.2" y="158.65" width="61.1" height="12.14" fill="#ff8200"/>
<rect x="1574.2" y="169.79" width="61.1" height="12.14" fill="#ff9800"/>
<rect x="1574.2" y="180.93" width="61.1" height="12.14" fill="#ffae00"/>
<rect x="1574.2" y="192.07" width="61.1" height="12.14" fill="#ffc300"/>
<rect x="1574.2" y="203.22" width="61.1" height="12.14" fill="#ffd900"/>
<rect x="1574.2" y="214.36" width="61.1" height="12.14" fill="#ffff00"/>
<rect x="1574.2" y="225.50" width="61.1" height="12.14" fill="#ffff00"/>
<rect x="1574.2" y="236.64" width="61.1" height="12.14" fill="#ffff00"/>
<rect x="1574.2" y="247.78" width="61.1" height="12.14" fill="#ceff00"/>
<rect x="1574.2" y="258.93" width="61.1" height="12.14" fill="#b8ff00"/>
<rect x="1574.2" y="270.07" width="61.1" height="12.14" fill="#a3ff00"/>
<rect x="1574.2" y="281.21" width="61.1" height="12.14" fill="#8dff00"/>
<rect x="1574.2" y="292.35" width="61.1" height="12.14" fill="#77ff00"/>
<rect x="1574.2" y="303.49" width="61.1" height="12.14" fill="#62ff00"/>
<rect x="1574.2" y="314.63" width="61.1" height="12.14" fill="#4cff00"/>
<rect x="1574.2" y="325.77" width="61.1" height="12.14" fill="#36ff00"/>
<rect x="1574.2" y="336.92" width="61.1" height="12.14" fill="#21ff00"/>
<rect x="1574.2" y="348.06" width="61.1" height="12.14" fill="#00ff00"/>
<rect x="1574.2" y="359.20" width="61.1" height="12.14" fill="#00ff00"/>
<rect x="1574.2" y="370.34" width="61.1" height="12.14" fill="#00ff21"/>
<rect x="1574.2" y="381.48" width="61.1" height="12.14" fill="#00ff36"/>
<rect x="1574.2" y="392.62" width="61.1" height="12.14" fill="#00ff4c"/>
<rect x="1574.2" y="403.77" width="61.1" height="12.14" fill="#00ff62"/>
<rect x="1574.2" y="414.91" width="61.1" height="12.14" fill="#00ff77"/>
<rect x="1574.2" y="426.05" width="61.1" height="12.14" fill="#00ff8d"/>
<rect x="1574.2" y="437.19" width="61.1" height="12.14" fill="#00ffa3"/>
<rect x="1574.2" y="448.33" width="61.1" height="12.14" fill="#00ffb8"/>
<rect x="1574.2" y="459.48" width="61.1" height="12.14" fill="#00ffce"/>
<rect x="1574.2" y="470.62" width="61.1" height="12.14" fill="#00ffff"/>
<rect x="1574.2" y="481.76" width="61.1" height="12.14" fill="#00ffff"/>
<rect x="1574.2" y="492.90" width="61.1" height="12.14" fill="#00ffff"/>
<rect x="1574.2" y="504.04" width="61.1" height="12.14" fill="#00d9ff"/>
<rect x="1574.2" y="515.18" width="61.1" height="12.14" fill="#00c3ff"/>
<rect x="1574.2" y="526.33" width="61.1" height="12.14" fill="#00aeff"/>
<rect x="1574.2" y="537.47" width="61.1" height="12.14" fill="#0098ff"/>
<rect x="1574.2" y="548.61" width="61.1" height="12.14" fill="#0082ff"/>
<rect x="1574.2" y="559.75" width="61.1" height="12.14" fill="#006dff"/>
<rect x="1574.2" y="570.89" width="61.1" height="12.14" fill="#0057ff"/>
<rect x="1574.2" y="582.03" width="61.1" height="12.14" fill="#0041ff"/>
<rect x="1574.2" y="593.18" width="61.1" height="12.14" fill="#002bff"/>
<rect x="1574.2" y="604.32" width="61.1" height="12.14" fill="#0016ff"/>
<rect x="1574.2" y="615.46" width="61.1" height="12.14" fill="#0000ff"/>
<rect x="1574.2" y="626.6" width="61.1" height="12.8" fill="#000"/>
<rect x="1574.2" y="80.5" width="61.1" height="557.1" fill="none" stroke="#000" stroke-width="3.6"/>
<g font-family='"Liberation Sans", Arial, Helvetica, sans-serif' font-weight="bold" font-size="24.3" fill="#000">
<text x="1656" y="634.9">21.25</text>
<text x="1656" y="568">23.05</text>
<text x="1656" y="501.2">24.85</text>
<text x="1656" y="434.4">26.65</text>
<text x="1656" y="367.5">28.45</text>
<text x="1656" y="300.6">30.25</text>
<text x="1656" y="233.8">32.05</text>
<text x="1656" y="166.9">33.85</text>
<text x="1656" y="100.1">35.65</text>
</g>
<g stroke="#000" stroke-width="2"><line x1="1636.1" y1="626.6" x2="1645.7" y2="626.6"/><line x1="1636.1" y1="559.8" x2="1645.7" y2="559.8"/><line x1="1636.1" y1="492.9" x2="1645.7" y2="492.9"/><line x1="1636.1" y1="426.1" x2="1645.7" y2="426.1"/><line x1="1636.1" y1="359.2" x2="1645.7" y2="359.2"/><line x1="1636.1" y1="292.3" x2="1645.7" y2="292.3"/><line x1="1636.1" y1="225.5" x2="1645.7" y2="225.5"/><line x1="1636.1" y1="158.6" x2="1645.7" y2="158.6"/><line x1="1636.1" y1="91.8" x2="1645.7" y2="91.8"/></g>
<text x="1604.8" y="69.7" text-anchor="middle" font-family='"Liberation Sans", Arial, Helvetica, sans-serif' font-weight="bold" font-size="34.7">Jsc</text>
<text x="1296.3" y="30.6" text-anchor="middle" letter-spacing="0.7" font-family='"Liberation Serif", "Times New Roman", Times, serif' font-weight="bold" font-size="43.3">(b)</text>
<text x="1155.6" y="707.6" textLength="221.4" lengthAdjust="spacing" font-family='"Liberation Serif", "Times New Roman", Times, serif' font-weight="bold" font-size="32.5">Thickness (μm)</text>
<text transform="translate(908.8,546.3) rotate(-90)" textLength="385" lengthAdjust="spacing" font-family='"Liberation Serif", "Times New Roman", Times, serif' font-weight="bold" font-size="32">Interface Defect density cm<tspan font-size="19.8" dy="-11.5">-2</tspan></text>
</g>
<g id="panel-c">
<g stroke-width="0.8" stroke-linejoin="round">
<path fill="#0000ff" stroke="#0000ff" d="M102.6,808.8 101.9,808.8 101.9,809.2 102.6,808.8Z"/>
<path fill="#0016ff" stroke="#0016ff" d="M106.2,808.8 102.6,808.8 101.9,809.2 101.9,811.6 106.2,808.8Z"/>
<path fill="#002bff" stroke="#002bff" d="M109.7,808.8 106.2,808.8 101.9,811.6 101.9,814.1 109.7,808.8Z"/>
<path fill="#0041ff" stroke="#0041ff" d="M113.3,808.8 109.7,808.8 101.9,814.1 101.9,817 113.3,808.8Z"/>
<path fill="#0057ff" stroke="#0057ff" d="M116.9,808.8 113.3,808.8 101.9,817 101.9,820.2 116.9,808.8Z"/>
<path fill="#006dff" stroke="#006dff" d="M120.5,808.8 116.9,808.8 101.9,820.2 101.9,823.8 120.5,808.8Z"/>
<path fill="#0082ff" stroke="#0082ff" d="M124.1,808.8 120.5,808.8 101.9,823.8 101.9,828 124.1,808.8Z"/>
<path fill="#0098ff" stroke="#0098ff" d="M127.7,808.8 124.1,808.8 101.9,828 101.9,833 127.7,808.8Z"/>
<path fill="#00aeff" stroke="#00aeff" d="M131.3,808.8 127.7,808.8 101.9,833 101.9,839.2 131.3,808.8Z"/>
<path fill="#00c3ff" stroke="#00c3ff" d="M134.8,808.8 131.3,808.8 101.9,839.2 101.9,847.2 134.8,808.8Z"/>
<path fill="#00d9ff" stroke="#00d9ff" d="M138.4,808.8 134.8,808.8 101.9,847.2 101.9,858.7 138.4,808.8Z"/>
<path fill="#00ffff" stroke="#00ffff" d="M103.8,870.1 142,808.8 138.4,808.8 101.9,858.7 101.9,870.5 103.8,870.1Z"/>
<path fill="#00ffff" stroke="#00ffff" d="M109.4,870.1 145.6,808.8 142,808.8 103.8,870.1 101.9,870.5 101.9,871.7 109.4,870.1Z"/>
<path fill="#00ffff" stroke="#00ffff" d="M114.9,870.1 149.2,808.8 145.6,808.8 109.4,870.1 101.9,871.7 101.9,873 114.9,870.1Z"/>
<path fill="#00ffce" stroke="#00ffce" d="M120.5,870.1 152.8,808.8 149.2,808.8 114.9,870.1 101.9,873 101.9,874.3 120.5,870.1Z"/>
<path fill="#00ffb8" stroke="#00ffb8" d="M126,870.1 154.2,811.5 158,808.8 152.8,808.8 120.5,870.1 101.9,874.3 101.9,875.7 126,870.1Z"/>
<path fill="#00ffa3" stroke="#00ffa3" d="M131.6,870.1 154.2,816.6 164.4,808.8 158,808.8 154.2,811.5 126,870.1 101.9,875.7 101.9,877.1 131.6,870.1Z"/>
<path fill="#00ff8d" stroke="#00ff8d" d="M137.1,870.1 154.2,822.9 170.8,808.8 164.4,808.8 154.2,816.6 131.6,870.1 101.9,877.1 101.9,878.6 137.1,870.1Z"/>
<path fill="#00ff77" stroke="#00ff77" d="M142.7,870.1 154.2,831.3 177.2,808.8 170.8,808.8 154.2,822.9 137.1,870.1 101.9,878.6 101.9,880.3 142.7,870.1Z"/>
<path fill="#00ff62" stroke="#00ff62" d="M148.2,870.1 154.2,843.6 183.6,808.8 177.2,808.8 154.2,831.3 142.7,870.1 101.9,880.3 101.9,882 148.2,870.1Z"/>
<path fill="#00ff4c" stroke="#00ff4c" d="M153.8,870.1 154.2,867 189.9,808.8 183.6,808.8 154.2,843.6 148.2,870.1 101.9,882 101.9,883.8 153.8,870.1Z"/>
<path fill="#00ff36" stroke="#00ff36" d="M154.2,871.9 165.4,870.1 196.3,808.8 189.9,808.8 154.2,867 153.8,870.1 101.9,883.8 101.9,885.8 154.2,871.9Z"/>
<path fill="#00ff21" stroke="#00ff21" d="M154.2,873.9 177.6,870.1 202.7,808.8 196.3,808.8 165.4,870.1 154.2,871.9 101.9,885.8 101.9,888 154.2,873.9Z"/>
<path fill="#00ff00" stroke="#00ff00" d="M154.2,876.1 189.8,870.1 206.5,814.8 211.4,808.8 202.7,808.8 177.6,870.1 154.2,873.9 101.9,888 101.9,890.3 154.2,876.1Z"/>
<path fill="#00ff00" stroke="#00ff00" d="M154.2,878.6 202,870.1 206.5,841.9 223.5,808.8 211.4,808.8 206.5,814.8 189.8,870.1 154.2,876.1 101.9,890.3 101.9,892.9 154.2,878.6Z"/>
<path fill="#21ff00" stroke="#21ff00" d="M154.2,881.2 214.7,870.1 235.6,808.8 223.5,808.8 206.5,841.9 202,870.1 154.2,878.6 101.9,892.9 101.9,895.7 154.2,881.2Z"/>
<path fill="#36ff00" stroke="#36ff00" d="M154.2,884.1 206.5,874.4 227.6,870.1 247.7,808.8 235.6,808.8 214.7,870.1 154.2,881.2 101.9,895.7 101.9,898.9 154.2,884.1Z"/>
<path fill="#4cff00" stroke="#4cff00" d="M154.2,887.4 206.5,877.3 240.5,870.1 258.9,810.1 260.6,808.8 247.7,808.8 227.6,870.1 206.5,874.4 154.2,884.1 101.9,898.9 101.9,902.5 154.2,887.4Z"/>
<path fill="#62ff00" stroke="#62ff00" d="M154.2,891.2 206.5,880.7 253.4,870.1 258.9,836.6 281.9,808.8 260.6,808.8 258.9,810.1 240.5,870.1 206.5,877.3 154.2,887.4 101.9,902.5 101.9,906.7 154.2,891.2Z"/>
<path fill="#77ff00" stroke="#77ff00" d="M154.2,895.6 206.5,884.5 258.9,872.1 269.6,870.1 303.3,808.8 281.9,808.8 258.9,836.6 253.4,870.1 206.5,880.7 154.2,891.2 101.9,906.7 101.9,911.6 154.2,895.6Z"/>
<path fill="#8dff00" stroke="#8dff00" d="M154.2,900.9 206.5,888.9 258.9,876 288.2,870.1 311.2,818.4 330,808.8 303.3,808.8 269.6,870.1 258.9,872.1 206.5,884.5 154.2,895.6 101.9,911.6 101.9,917.7 154.2,900.9Z"/>
<path fill="#a3ff00" stroke="#a3ff00" d="M154.2,907.5 206.5,894.3 258.9,880.4 306.7,870.1 311.2,849.7 360,808.8 330,808.8 311.2,818.4 288.2,870.1 258.9,876 206.5,888.9 154.2,900.9 101.9,917.7 101.9,925.5 154.2,907.5Z"/>
<path fill="#b8ff00" stroke="#b8ff00" d="M112.1,1299.6 112.1,1238.2 108.7,1176.9 101.9,1153.4 101.9,1360.9 112.1,1360.9 112.1,1299.6ZM116.2,931.5 154.2,916.2 258.9,885.8 311.2,873.6 336.8,870.1 363.5,826 393.2,808.8 360,808.8 311.2,849.7 306.7,870.1 258.9,880.4 206.5,894.3 154.2,907.5 101.9,925.5 101.9,932.3 116.2,931.5Z"/>
<path fill="#ceff00" stroke="#ceff00" d="M125.4,1299.6 125.3,1238.2 121.6,1176.9 101.9,1133.4 101.9,1153.4 108.7,1176.9 112.1,1238.2 112.1,1360.9 125.4,1360.9 125.4,1299.6ZM150.2,931.5 154.2,929.4 206.5,910 258.9,892.6 311.2,878.9 363.5,871.2 378.1,870.1 415.8,819.9 426.8,808.8 393.2,808.8 363.5,826 336.8,870.1 311.2,873.6 258.9,885.8 154.2,916.2 116.2,931.5 101.9,932.3 101.9,934.2 150.2,931.5Z"/>
<path fill="#ffff00" stroke="#ffff00" d="M138.7,1299.6 138.4,1238.2 134.5,1176.9 101.9,1122.2 101.9,1133.4 121.6,1176.9 125.3,1238.2 125.4,1360.9 138.7,1360.9 138.7,1299.6ZM154.2,933.2 190.7,931.5 206.5,923.6 258.9,901.6 311.2,885.5 363.5,876.7 415.8,872.5 430.6,870.1 460.3,808.8 426.8,808.8 415.8,819.9 378.1,870.1 363.5,871.2 311.2,878.9 258.9,892.6 206.5,910 154.2,929.4 150.2,931.5 101.9,934.2 101.9,936.3 154.2,933.2Z"/>
<path fill="#ffff00" stroke="#ffff00" d="M152,1299.6 151.5,1238.2 147.4,1176.9 105.4,1115.5 101.9,1111.3 101.9,1122.2 134.5,1176.9 138.4,1238.2 138.7,1299.6 138.7,1360.9 152,1360.9 152,1299.6ZM154.2,935.4 231.7,931.5 258.9,915.4 311.2,894.3 363.5,883.8 415.8,878.4 462.6,870.1 468.1,844.2 497.1,808.8 460.3,808.8 430.6,870.1 415.8,872.5 363.5,876.7 311.2,885.5 258.9,901.6 206.5,923.6 190.7,931.5 154.2,933.2 101.9,936.3 101.9,938.5 154.2,935.4Z"/>
<path fill="#ffff00" stroke="#ffff00" d="M154.2,1360.9 168.1,1360.9 168.1,1299.6 167.7,1238.2 162.4,1176.9 154.2,1146.6 124.6,1115.5 101.9,1095.6 101.9,1111.3 105.4,1115.5 147.4,1176.9 151.5,1238.2 152,1299.6 152,1360.9 154.2,1360.9ZM154.2,937.7 272.9,931.5 311.2,907.6 363.5,893.4 415.8,886 468.1,875.7 507.2,870.1 520.4,828.3 538.7,808.8 497.1,808.8 468.1,844.2 462.6,870.1 415.8,878.4 363.5,883.8 311.2,894.3 258.9,915.4 231.7,931.5 154.2,935.4 101.9,938.5 101.9,941 154.2,937.7Z"/>
<path fill="#ffd900" stroke="#ffd900" d="M184.9,1299.6 184.7,1238.2 179.5,1176.9 154.2,1122.9 101.9,1085.8 101.9,1095.6 124.6,1115.5 154.2,1146.6 162.4,1176.9 167.7,1238.2 168.1,1299.6 168.1,1360.9 184.9,1360.9 184.9,1299.6ZM154.2,940.2 316.5,931.5 363.5,908.5 415.8,896.7 468.1,884.4 520.4,876.1 554.8,870.1 572.8,821.9 589.3,808.8 538.7,808.8 520.4,828.3 507.2,870.1 468.1,875.7 415.8,886 363.5,893.4 311.2,907.6 272.9,931.5 154.2,937.7 101.9,941 101.9,943.7 154.2,940.2Z"/>
<path fill="#ffc300" stroke="#ffc300" d="M201.6,1299.6 201.7,1238.2 196.7,1176.9 164.6,1115.5 154.2,1104.3 101.9,1078.6 101.9,1085.8 154.2,1122.9 179.5,1176.9 184.7,1238.2 184.9,1360.9 201.6,1360.9 201.6,1299.6ZM154.2,943 311.2,934.4 381.2,931.5 415.8,914.8 468.1,897.3 520.4,887.5 572.8,877.3 622.9,870.1 625.1,857.5 649.3,808.8 589.3,808.8 572.8,821.9 554.8,870.1 520.4,876.1 468.1,884.4 415.8,896.7 363.5,908.5 316.5,931.5 154.2,940.2 101.9,943.7 101.9,946.7 154.2,943Z"/>
<path fill="#ffae00" stroke="#ffae00" d="M206.5,1360.9 225.1,1360.9 225.2,1238.2 218.6,1176.9 206.5,1140.1 187.1,1115.5 154.2,1089.4 101.9,1073 101.9,1078.6 154.2,1104.3 164.6,1115.5 196.7,1176.9 201.7,1238.2 201.6,1360.9 206.5,1360.9ZM154.2,946.1 311.2,937.4 456.3,931.5 468.1,923.6 520.4,907.9 572.8,895.7 625.1,885.7 677.4,879.8 677.4,808.8 649.3,808.8 625.1,857.5 622.9,870.1 572.8,877.3 520.4,887.5 468.1,897.3 415.8,914.8 381.2,931.5 311.2,934.4 154.2,943 101.9,946.7 101.9,950.1 154.2,946.1Z"/>
<path fill="#ff9800" stroke="#ff9800" d="M251.5,1299.6 251.4,1238.2 246.6,1176.9 210.8,1115.5 206.5,1110.6 154.2,1079.9 101.9,1068.3 101.9,1073 154.2,1089.4 187.1,1115.5 206.5,1140.1 218.6,1176.9 225.2,1238.2 225.1,1360.9 251.5,1360.9 251.5,1299.6ZM154.2,949.7 206.5,946.5 311.2,940.7 468.1,934.3 520.4,933.2 624.7,931.5 677.4,916.7 677.4,879.8 625.1,885.7 572.8,895.7 520.4,907.9 468.1,923.6 456.3,931.5 311.2,937.4 154.2,946.1 101.9,950.1 101.9,954 154.2,949.7Z"/>
<path fill="#ff8200" stroke="#ff8200" d="M258.9,1360.9 287.3,1360.9 287.3,1299.6 287.3,1238.2 280.7,1176.9 258.9,1130.5 242.6,1115.5 206.5,1089 154.2,1072.9 101.9,1064.3 101.9,1068.3 154.2,1079.9 206.5,1110.6 210.8,1115.5 246.6,1176.9 251.4,1238.2 251.5,1360.9 258.9,1360.9ZM154.2,953.8 206.5,950.3 311.2,944.5 363.5,942.3 468.1,938.2 520.4,937 625.1,935.4 677.4,935 677.4,916.7 624.7,931.5 520.4,933.2 468.1,934.3 311.2,940.7 206.5,946.5 154.2,949.7 101.9,954 101.9,958.5 154.2,953.8Z"/>
<path fill="#ff6d00" stroke="#ff6d00" d="M311.2,1360.9 331.6,1360.9 331.6,1238.2 324.2,1176.9 311.2,1149.6 277.6,1115.5 258.9,1098.2 206.5,1077.3 154.2,1067.4 101.9,1060.9 101.9,1064.3 154.2,1072.9 206.5,1089 242.6,1115.5 258.9,1130.5 280.7,1176.9 287.3,1238.2 287.3,1360.9 311.2,1360.9ZM154.2,958.6 206.5,954.8 258.9,951.7 311.2,949 363.5,946.7 468.1,942.6 520.4,941.5 625.1,939.9 677.4,939.7 677.4,935 625.1,935.4 520.4,937 468.1,938.2 363.5,942.3 311.2,944.5 206.5,950.3 154.2,953.8 101.9,958.5 101.9,964.1 154.2,958.6Z"/>
<path fill="#ff5700" stroke="#ff5700" d="M363.5,1360.9 404.1,1360.9 403.6,1299.6 402.8,1238.2 397,1176.9 363.5,1127.7 329.3,1115.5 311.2,1108.6 258.9,1080 206.5,1069.1 154.2,1062.8 101.9,1057.8 101.9,1060.9 154.2,1067.4 206.5,1077.3 258.9,1098.2 277.6,1115.5 311.2,1149.6 324.2,1176.9 331.6,1238.2 331.6,1360.9 363.5,1360.9ZM154.2,964.5 206.5,960.2 258.9,957 311.2,954.4 363.5,952.1 468.1,948 520.4,946.9 625.1,945.4 677.4,945.4 677.4,939.7 625.1,939.9 520.4,941.5 468.1,942.6 363.5,946.7 311.2,949 258.9,951.7 206.5,954.8 154.2,958.6 101.9,964.1 101.9,971 154.2,964.5Z"/>
<path fill="#ff4100" stroke="#ff4100" d="M415.8,1360.9 490,1360.9 490,1238.2 486.9,1176.9 468.1,1128.4 448.8,1115.5 415.8,1094.9 363.5,1087.1 311.2,1081 258.9,1069.3 206.5,1062.9 154.2,1058.9 101.9,1055.1 101.9,1057.8 154.2,1062.8 206.5,1069.1 258.9,1080 311.2,1108.6 329.3,1115.5 363.5,1127.7 397,1176.9 402.8,1238.2 403.6,1299.6 404.1,1360.9 415.8,1360.9ZM154.2,972.1 206.5,967 258.9,963.6 363.5,958.8 468.1,954.7 520.4,953.7 625.1,952.3 677.4,952.7 677.4,945.4 625.1,945.4 520.4,946.9 468.1,948 363.5,952.1 311.2,954.4 258.9,957 206.5,960.2 154.2,964.5 101.9,971 101.9,980.5 154.2,972.1Z"/>
<path fill="#ff2b00" stroke="#ff2b00" d="M520.4,1360.9 560.9,1360.9 560.9,1299.6 560.9,1238.2 548,1176.9 520.4,1122.1 513.1,1115.5 468.1,1082.2 415.8,1073.6 311.2,1067.7 258.9,1061.7 206.5,1057.9 154.2,1055.5 133.5,1054.2 110.6,992.8 154.2,982.7 206.5,976.1 258.9,972.4 311.2,970.2 363.5,967.7 468.1,963.7 520.4,962.9 625.1,961.6 677.4,962.8 677.4,952.7 625.1,952.3 520.4,953.7 468.1,954.7 363.5,958.8 258.9,963.6 206.5,967 154.2,972.1 101.9,980.5 101.9,1055.1 154.2,1058.9 206.5,1062.9 258.9,1069.3 311.2,1081 363.5,1087.1 415.8,1094.9 448.8,1115.5 468.1,1128.4 486.9,1176.9 490,1238.2 490,1360.9 520.4,1360.9Z"/>
<path fill="#ff1600" stroke="#ff1600" d="M572.8,1360.9 660,1360.9 660,1299.6 660.3,1238.2 656,1176.9 625.1,1110.6 572.8,1080.7 520.4,1070.9 468.1,1064.3 415.8,1061.9 311.2,1058.9 258.9,1055.7 222.6,1054.2 206.5,1009.2 192,992.8 206.5,990.1 258.9,985.5 311.2,984 363.5,981.3 468.1,977.4 625.1,976.2 677.4,979.3 677.4,962.8 625.1,961.6 520.4,962.9 468.1,963.7 363.5,967.7 311.2,970.2 258.9,972.4 206.5,976.1 154.2,982.7 110.6,992.8 133.5,1054.2 154.2,1055.5 206.5,1057.9 258.9,1061.7 311.2,1067.7 415.8,1073.6 468.1,1082.2 513.1,1115.5 520.4,1122.1 548,1176.9 560.9,1238.2 560.9,1360.9 572.8,1360.9Z"/>
<path fill="#ff0000" stroke="#ff0000" d="M677.4,1360.9 677.4,979.3 625.1,976.2 468.1,977.4 363.5,981.3 311.2,984 258.9,985.5 206.5,990.1 192,992.8 206.5,1009.2 222.6,1054.2 258.9,1055.7 311.2,1058.9 415.8,1061.9 468.1,1064.3 520.4,1070.9 572.8,1080.7 625.1,1110.6 656,1176.9 660.3,1238.2 660,1299.6 660,1360.9 677.4,1360.9Z"/>
</g>
<path fill="none" stroke="#465058" stroke-width="1.05" stroke-linejoin="round" d="M120.5,808.8 101.9,823.8M142,808.8 103.8,870.1 101.9,870.5M170.8,808.8 154.2,822.9 140.5,860.9M106.7,877.5 101.9,878.6M211.4,808.8 208.9,811.8M201.6,831 189.8,870.1 154.2,876.1 101.9,890.3M303.3,808.8 274.9,860.5M239.5,876.7 206.5,884.5 154.2,895.6 101.9,911.6M101.9,1111.3 105.4,1115.5 147.4,1176.9 150.9,1228.3M151.6,1248.1 152,1299.6 152,1360.9M497.1,808.8 468.1,844.2 464.7,860.5M430.4,875.8 415.8,878.4 363.5,883.8 311.2,894.3 258.9,915.4 231.7,931.5 154.2,935.4 101.9,938.5M101.9,1064.3 154.2,1072.9 206.5,1089 229,1105.5M253.2,1125.3 258.9,1130.5 280.7,1176.9 287.3,1238.2 287.3,1360.9M677.4,935 625.1,935.4 551.3,936.5M487.9,937.7 468.1,938.2 363.5,942.3 311.2,944.5 206.5,950.3 154.2,953.8 101.9,958.5"/>
<g font-family='"Liberation Sans", Arial, Helvetica, sans-serif' font-weight="bold" font-size="23.5" text-anchor="middle" fill="#000">
<text x="138.2" y="878.8">85.94</text>
<text x="206.4" y="829.9">86.29</text>
<text x="271.1" y="878.8">86.64</text>
<text x="462" y="878.8">87.00</text>
<text x="519.5" y="946.9">87.35</text>
<text x="242" y="1123.9">87.35</text>
<text x="151.5" y="1246.9">87.00</text>
</g>
<rect x="101.9" y="808.8" width="575.5" height="552.1" fill="none" stroke="#000" stroke-width="4.2"/>
<g stroke="#000"><line x1="101.9" y1="1360.9" x2="101.9" y2="1366.1" stroke-width="3.2"/><line x1="154.2" y1="1360.9" x2="154.2" y2="1371.2" stroke-width="4.1"/><line x1="206.5" y1="1360.9" x2="206.5" y2="1366.1" stroke-width="3.2"/><line x1="258.9" y1="1360.9" x2="258.9" y2="1371.2" stroke-width="4.1"/><line x1="311.2" y1="1360.9" x2="311.2" y2="1366.1" stroke-width="3.2"/><line x1="363.5" y1="1360.9" x2="363.5" y2="1371.2" stroke-width="4.1"/><line x1="415.8" y1="1360.9" x2="415.8" y2="1366.1" stroke-width="3.2"/><line x1="468.1" y1="1360.9" x2="468.1" y2="1371.2" stroke-width="4.1"/><line x1="520.4" y1="1360.9" x2="520.4" y2="1366.1" stroke-width="3.2"/><line x1="572.8" y1="1360.9" x2="572.8" y2="1371.2" stroke-width="4.1"/><line x1="625.1" y1="1360.9" x2="625.1" y2="1366.1" stroke-width="3.2"/><line x1="677.4" y1="1360.9" x2="677.4" y2="1371.2" stroke-width="4.1"/><line x1="91.3" y1="1360.9" x2="101.9" y2="1360.9" stroke-width="4.2"/><rect x="96.4" y="1299.6" width="5.5" height="20.1" stroke="none"/><line x1="96.4" y1="1324" x2="101.9" y2="1324" stroke-width="2.8"/><line x1="96.4" y1="1331.7" x2="101.9" y2="1331.7" stroke-width="2.8"/><line x1="96.4" y1="1342.4" x2="101.9" y2="1342.4" stroke-width="2.8"/><line x1="91.3" y1="1299.6" x2="101.9" y2="1299.6" stroke-width="3"/><rect x="96.4" y="1238.2" width="5.5" height="20.1" stroke="none"/><line x1="96.4" y1="1262.6" x2="101.9" y2="1262.6" stroke-width="2.8"/><line x1="96.4" y1="1270.3" x2="101.9" y2="1270.3" stroke-width="2.8"/><line x1="96.4" y1="1281.1" x2="101.9" y2="1281.1" stroke-width="2.8"/><line x1="91.3" y1="1238.2" x2="101.9" y2="1238.2" stroke-width="3"/><rect x="96.4" y="1176.9" width="5.5" height="20.1" stroke="none"/><line x1="96.4" y1="1201.3" x2="101.9" y2="1201.3" stroke-width="2.8"/><line x1="96.4" y1="1209" x2="101.9" y2="1209" stroke-width="2.8"/><line x1="96.4" y1="1219.7" x2="101.9" y2="1219.7" stroke-width="2.8"/><line x1="91.3" y1="1176.9" x2="101.9" y2="1176.9" stroke-width="3"/><rect x="96.4" y="1115.5" width="5.5" height="20.1" stroke="none"/><line x1="96.4" y1="1139.9" x2="101.9" y2="1139.9" stroke-width="2.8"/><line x1="96.4" y1="1147.6" x2="101.9" y2="1147.6" stroke-width="2.8"/><line x1="96.4" y1="1158.4" x2="101.9" y2="1158.4" stroke-width="2.8"/><line x1="91.3" y1="1115.5" x2="101.9" y2="1115.5" stroke-width="3"/><rect x="96.4" y="1054.2" width="5.5" height="20.1" stroke="none"/><line x1="96.4" y1="1078.6" x2="101.9" y2="1078.6" stroke-width="2.8"/><line x1="96.4" y1="1086.3" x2="101.9" y2="1086.3" stroke-width="2.8"/><line x1="96.4" y1="1097" x2="101.9" y2="1097" stroke-width="2.8"/><line x1="91.3" y1="1054.2" x2="101.9" y2="1054.2" stroke-width="3"/><rect x="96.4" y="992.8" width="5.5" height="20.1" stroke="none"/><line x1="96.4" y1="1017.2" x2="101.9" y2="1017.2" stroke-width="2.8"/><line x1="96.4" y1="1024.9" x2="101.9" y2="1024.9" stroke-width="2.8"/><line x1="96.4" y1="1035.7" x2="101.9" y2="1035.7" stroke-width="2.8"/><line x1="91.3" y1="992.8" x2="101.9" y2="992.8" stroke-width="3"/><rect x="96.4" y="931.5" width="5.5" height="20.1" stroke="none"/><line x1="96.4" y1="955.9" x2="101.9" y2="955.9" stroke-width="2.8"/><line x1="96.4" y1="963.6" x2="101.9" y2="963.6" stroke-width="2.8"/><line x1="96.4" y1="974.4" x2="101.9" y2="974.4" stroke-width="2.8"/><line x1="91.3" y1="931.5" x2="101.9" y2="931.5" stroke-width="3"/><rect x="96.4" y="870.1" width="5.5" height="20.1" stroke="none"/><line x1="96.4" y1="894.5" x2="101.9" y2="894.5" stroke-width="2.8"/><line x1="96.4" y1="902.2" x2="101.9" y2="902.2" stroke-width="2.8"/><line x1="96.4" y1="913" x2="101.9" y2="913" stroke-width="2.8"/><line x1="91.3" y1="870.1" x2="101.9" y2="870.1" stroke-width="3"/><rect x="96.4" y="808.8" width="5.5" height="20.1" stroke="none"/><line x1="96.4" y1="833.2" x2="101.9" y2="833.2" stroke-width="2.8"/><line x1="96.4" y1="840.9" x2="101.9" y2="840.9" stroke-width="2.8"/><line x1="96.4" y1="851.7" x2="101.9" y2="851.7" stroke-width="2.8"/><line x1="91.3" y1="808.8" x2="101.9" y2="808.8" stroke-width="4.2"/></g>
<g font-family='"Liberation Sans", Arial, Helvetica, sans-serif' font-weight="bold" font-size="23.3" fill="#000">
<text x="154.2" y="1396.6" text-anchor="middle">0.5</text>
<text x="258.9" y="1396.6" text-anchor="middle">1.0</text>
<text x="363.5" y="1396.6" text-anchor="middle">1.5</text>
<text x="468.1" y="1396.6" text-anchor="middle">2.0</text>
<text x="572.8" y="1396.6" text-anchor="middle">2.5</text>
<text x="677.4" y="1396.6" text-anchor="middle">3.0</text>
<text x="82.6" y="1369.5" text-anchor="end">10<tspan font-size="16.3" dy="-9.9">10</tspan></text>
<text x="82.6" y="1308.2" text-anchor="end">10<tspan font-size="16.3" dy="-9.9">11</tspan></text>
<text x="82.6" y="1246.8" text-anchor="end">10<tspan font-size="16.3" dy="-9.9">12</tspan></text>
<text x="82.6" y="1185.5" text-anchor="end">10<tspan font-size="16.3" dy="-9.9">13</tspan></text>
<text x="82.6" y="1124.1" text-anchor="end">10<tspan font-size="16.3" dy="-9.9">14</tspan></text>
<text x="82.6" y="1062.8" text-anchor="end">10<tspan font-size="16.3" dy="-9.9">15</tspan></text>
<text x="82.6" y="1001.4" text-anchor="end">10<tspan font-size="16.3" dy="-9.9">16</tspan></text>
<text x="82.6" y="940.1" text-anchor="end">10<tspan font-size="16.3" dy="-9.9">17</tspan></text>
<text x="82.6" y="878.7" text-anchor="end">10<tspan font-size="16.3" dy="-9.9">18</tspan></text>
<text x="82.6" y="817.4" text-anchor="end">10<tspan font-size="16.3" dy="-9.9">19</tspan></text>
</g>
<rect x="692.1" y="808.4" width="60.6" height="12.8" fill="#fff"/>
<rect x="692.1" y="819.40" width="60.6" height="12.05" fill="#ff0000"/>
<rect x="692.1" y="830.45" width="60.6" height="12.05" fill="#ff1600"/>
<rect x="692.1" y="841.50" width="60.6" height="12.05" fill="#ff2b00"/>
<rect x="692.1" y="852.54" width="60.6" height="12.05" fill="#ff4100"/>
<rect x="692.1" y="863.59" width="60.6" height="12.05" fill="#ff5700"/>
<rect x="692.1" y="874.64" width="60.6" height="12.05" fill="#ff6d00"/>
<rect x="692.1" y="885.69" width="60.6" height="12.05" fill="#ff8200"/>
<rect x="692.1" y="896.74" width="60.6" height="12.05" fill="#ff9800"/>
<rect x="692.1" y="907.78" width="60.6" height="12.05" fill="#ffae00"/>
<rect x="692.1" y="918.83" width="60.6" height="12.05" fill="#ffc300"/>
<rect x="692.1" y="929.88" width="60.6" height="12.05" fill="#ffd900"/>
<rect x="692.1" y="940.93" width="60.6" height="12.05" fill="#ffff00"/>
<rect x="692.1" y="951.98" width="60.6" height="12.05" fill="#ffff00"/>
<rect x="692.1" y="963.02" width="60.6" height="12.05" fill="#ffff00"/>
<rect x="692.1" y="974.07" width="60.6" height="12.05" fill="#ceff00"/>
<rect x="692.1" y="985.12" width="60.6" height="12.05" fill="#b8ff00"/>
<rect x="692.1" y="996.17" width="60.6" height="12.05" fill="#a3ff00"/>
<rect x="692.1" y="1007.21" width="60.6" height="12.05" fill="#8dff00"/>
<rect x="692.1" y="1018.26" width="60.6" height="12.05" fill="#77ff00"/>
<rect x="692.1" y="1029.31" width="60.6" height="12.05" fill="#62ff00"/>
<rect x="692.1" y="1040.36" width="60.6" height="12.05" fill="#4cff00"/>
<rect x="692.1" y="1051.41" width="60.6" height="12.05" fill="#36ff00"/>
<rect x="692.1" y="1062.45" width="60.6" height="12.05" fill="#21ff00"/>
<rect x="692.1" y="1073.50" width="60.6" height="12.05" fill="#00ff00"/>
<rect x="692.1" y="1084.55" width="60.6" height="12.05" fill="#00ff00"/>
<rect x="692.1" y="1095.60" width="60.6" height="12.05" fill="#00ff21"/>
<rect x="692.1" y="1106.65" width="60.6" height="12.05" fill="#00ff36"/>
<rect x="692.1" y="1117.69" width="60.6" height="12.05" fill="#00ff4c"/>
<rect x="692.1" y="1128.74" width="60.6" height="12.05" fill="#00ff62"/>
<rect x="692.1" y="1139.79" width="60.6" height="12.05" fill="#00ff77"/>
<rect x="692.1" y="1150.84" width="60.6" height="12.05" fill="#00ff8d"/>
<rect x="692.1" y="1161.89" width="60.6" height="12.05" fill="#00ffa3"/>
<rect x="692.1" y="1172.93" width="60.6" height="12.05" fill="#00ffb8"/>
<rect x="692.1" y="1183.98" width="60.6" height="12.05" fill="#00ffce"/>
<rect x="692.1" y="1195.03" width="60.6" height="12.05" fill="#00ffff"/>
<rect x="692.1" y="1206.08" width="60.6" height="12.05" fill="#00ffff"/>
<rect x="692.1" y="1217.12" width="60.6" height="12.05" fill="#00ffff"/>
<rect x="692.1" y="1228.17" width="60.6" height="12.05" fill="#00d9ff"/>
<rect x="692.1" y="1239.22" width="60.6" height="12.05" fill="#00c3ff"/>
<rect x="692.1" y="1250.27" width="60.6" height="12.05" fill="#00aeff"/>
<rect x="692.1" y="1261.32" width="60.6" height="12.05" fill="#0098ff"/>
<rect x="692.1" y="1272.36" width="60.6" height="12.05" fill="#0082ff"/>
<rect x="692.1" y="1283.41" width="60.6" height="12.05" fill="#006dff"/>
<rect x="692.1" y="1294.46" width="60.6" height="12.05" fill="#0057ff"/>
<rect x="692.1" y="1305.51" width="60.6" height="12.05" fill="#0041ff"/>
<rect x="692.1" y="1316.56" width="60.6" height="12.05" fill="#002bff"/>
<rect x="692.1" y="1327.60" width="60.6" height="12.05" fill="#0016ff"/>
<rect x="692.1" y="1338.65" width="60.6" height="12.05" fill="#0000ff"/>
<rect x="692.1" y="1349.7" width="60.6" height="12.8" fill="#000"/>
<rect x="692.1" y="808.4" width="60.6" height="552.3" fill="none" stroke="#000" stroke-width="3.6"/>
<g font-family='"Liberation Sans", Arial, Helvetica, sans-serif' font-weight="bold" font-size="23.4" fill="#000">
<text x="773.5" y="1358">84.87</text>
<text x="773.5" y="1291.7">85.23</text>
<text x="773.5" y="1225.4">85.58</text>
<text x="773.5" y="1159.1">85.94</text>
<text x="773.5" y="1092.8">86.29</text>
<text x="773.5" y="1026.6">86.64</text>
<text x="773.5" y="960.3">87.00</text>
<text x="773.5" y="894">87.35</text>
<text x="773.5" y="827.7">87.71</text>
</g>
<g stroke="#000" stroke-width="2"><line x1="753.5" y1="1349.7" x2="763.1" y2="1349.7"/><line x1="753.5" y1="1283.4" x2="763.1" y2="1283.4"/><line x1="753.5" y1="1217.1" x2="763.1" y2="1217.1"/><line x1="753.5" y1="1150.8" x2="763.1" y2="1150.8"/><line x1="753.5" y1="1084.5" x2="763.1" y2="1084.5"/><line x1="753.5" y1="1018.3" x2="763.1" y2="1018.3"/><line x1="753.5" y1="952" x2="763.1" y2="952"/><line x1="753.5" y1="885.7" x2="763.1" y2="885.7"/><line x1="753.5" y1="819.4" x2="763.1" y2="819.4"/></g>
<text x="722.6" y="797.8" text-anchor="middle" font-family='"Liberation Sans", Arial, Helvetica, sans-serif' font-weight="bold" font-size="38">FF</text>
<text x="416.2" y="756" text-anchor="middle" letter-spacing="0.7" font-family='"Liberation Serif", "Times New Roman", Times, serif' font-weight="bold" font-size="43.3">(c)</text>
<text x="289.5" y="1432" textLength="220" lengthAdjust="spacing" font-family='"Liberation Serif", "Times New Roman", Times, serif' font-weight="bold" font-size="32.5">Thickness (μm)</text>
<text transform="translate(28,1260.3) rotate(-90)" textLength="384.9" lengthAdjust="spacing" font-family='"Liberation Serif", "Times New Roman", Times, serif' font-weight="bold" font-size="32">Interface Defect density cm<tspan font-size="19.8" dy="-11.5">-2</tspan></text>
</g>
<g id="panel-d">
<g stroke-width="0.8" stroke-linejoin="round">
<path fill="#0000ff" stroke="#0000ff" d="M980.9,800 977.5,800 977.5,803.2 980.9,800Z"/>
<path fill="#0016ff" stroke="#0016ff" d="M985.1,800 980.9,800 977.5,803.2 977.5,807.8 985.1,800Z"/>
<path fill="#002bff" stroke="#002bff" d="M989.4,800 985.1,800 977.5,807.8 977.5,813.3 989.4,800Z"/>
<path fill="#0041ff" stroke="#0041ff" d="M993.6,800 989.4,800 977.5,813.3 977.5,820.4 993.6,800Z"/>
<path fill="#0057ff" stroke="#0057ff" d="M997.9,800 993.6,800 977.5,820.4 977.5,829.9 997.9,800Z"/>
<path fill="#006dff" stroke="#006dff" d="M1002.2,800 997.9,800 977.5,829.9 977.5,844.8 1002.2,800Z"/>
<path fill="#0082ff" stroke="#0082ff" d="M979.4,862.1 1006.4,800 1002.2,800 977.5,844.8 977.5,862.8 979.4,862.1Z"/>
<path fill="#0098ff" stroke="#0098ff" d="M984.8,862.1 1010.7,800 1006.4,800 979.4,862.1 977.5,862.8 977.5,864.8 984.8,862.1Z"/>
<path fill="#00aeff" stroke="#00aeff" d="M990.3,862.1 1014.9,800 1010.7,800 984.8,862.1 977.5,864.8 977.5,867 990.3,862.1Z"/>
<path fill="#00c3ff" stroke="#00c3ff" d="M995.7,862.1 1019.2,800 1014.9,800 990.3,862.1 977.5,867 977.5,869.3 995.7,862.1Z"/>
<path fill="#00d9ff" stroke="#00d9ff" d="M1001.1,862.1 1023.4,800 1019.2,800 995.7,862.1 977.5,869.3 977.5,871.9 1001.1,862.1Z"/>
<path fill="#00ffff" stroke="#00ffff" d="M1006.5,862.1 1027.7,800 1023.4,800 1001.1,862.1 977.5,871.9 977.5,874.8 1006.5,862.1Z"/>
<path fill="#00ffff" stroke="#00ffff" d="M1011.9,862.1 1030.5,802.3 1033.1,800 1027.7,800 1006.5,862.1 977.5,874.8 977.5,878 1011.9,862.1Z"/>
<path fill="#00ffff" stroke="#00ffff" d="M1017.4,862.1 1030.5,810.5 1040.7,800 1033.1,800 1030.5,802.3 1011.9,862.1 977.5,878 977.5,881.6 1017.4,862.1Z"/>
<path fill="#00ffce" stroke="#00ffce" d="M1022.8,862.1 1030.5,822.2 1048.3,800 1040.7,800 1030.5,810.5 1017.4,862.1 977.5,881.6 977.5,885.9 1022.8,862.1Z"/>
<path fill="#00ffb8" stroke="#00ffb8" d="M1028.2,862.1 1030.5,843.5 1055.9,800 1048.3,800 1030.5,822.2 1022.8,862.1 977.5,885.9 977.5,890.9 1028.2,862.1Z"/>
<path fill="#00ffa3" stroke="#00ffa3" d="M1030.5,863.5 1035.8,862.1 1063.5,800 1055.9,800 1030.5,843.5 1028.2,862.1 977.5,890.9 977.5,897 1030.5,863.5Z"/>
<path fill="#00ff8d" stroke="#00ff8d" d="M1030.5,865.9 1045,862.1 1071.1,800 1063.5,800 1035.8,862.1 1030.5,863.5 977.5,897 977.5,904.9 1030.5,865.9Z"/>
<path fill="#00ff77" stroke="#00ff77" d="M1030.5,868.7 1054.1,862.1 1078.7,800 1071.1,800 1045,862.1 1030.5,865.9 977.5,904.9 977.5,916.3 1030.5,868.7Z"/>
<path fill="#00ff62" stroke="#00ff62" d="M981,924.2 1030.5,871.7 1063.3,862.1 1083.4,803.8 1088.7,800 1078.7,800 1054.1,862.1 1030.5,868.7 977.5,916.3 977.5,925.7 981,924.2Z"/>
<path fill="#00ff4c" stroke="#00ff4c" d="M987.9,924.2 1030.5,875.2 1072.4,862.1 1083.4,817.7 1102.5,800 1088.7,800 1083.4,803.8 1063.3,862.1 1030.5,871.7 981,924.2 977.5,925.7 977.5,928.8 987.9,924.2Z"/>
<path fill="#00ff36" stroke="#00ff36" d="M994.8,924.2 1030.5,879.1 1081.6,862.1 1083.4,847.6 1116.3,800 1102.5,800 1083.4,817.7 1072.4,862.1 1030.5,875.2 987.9,924.2 977.5,928.8 977.5,932.4 994.8,924.2Z"/>
<path fill="#00ff21" stroke="#00ff21" d="M1001.7,924.2 1030.5,883.7 1083.4,864.6 1098.1,862.1 1130.1,800 1116.3,800 1083.4,847.6 1081.6,862.1 1030.5,879.1 994.8,924.2 977.5,932.4 977.5,936.5 1001.7,924.2Z"/>
<path fill="#00ff00" stroke="#00ff00" d="M1008.6,924.2 1030.5,889.3 1083.4,868.2 1116.5,862.1 1136.4,809.7 1146.4,800 1130.1,800 1098.1,862.1 1083.4,864.6 1030.5,883.7 1001.7,924.2 977.5,936.5 977.5,941.3 1008.6,924.2Z"/>
<path fill="#00ff00" stroke="#00ff00" d="M1015.5,924.2 1030.5,896.3 1083.4,872.3 1134.9,862.1 1136.4,851.9 1164.6,800 1146.4,800 1136.4,809.7 1116.5,862.1 1083.4,868.2 1030.5,889.3 1008.6,924.2 977.5,941.3 977.5,947.2 1015.5,924.2Z"/>
<path fill="#21ff00" stroke="#21ff00" d="M1022.5,924.2 1030.5,905.9 1083.4,877.1 1136.4,865.5 1154.9,862.1 1182.8,800 1164.6,800 1136.4,851.9 1134.9,862.1 1083.4,872.3 1030.5,896.3 1015.5,924.2 977.5,947.2 977.5,954.8 1022.5,924.2Z"/>
<path fill="#36ff00" stroke="#36ff00" d="M1029.4,924.2 1030.5,920.8 1083.4,883 1136.4,869.8 1175,862.1 1189.4,815 1206.2,800 1182.8,800 1154.9,862.1 1136.4,865.5 1083.4,877.1 1030.5,905.9 1022.5,924.2 977.5,954.8 977.5,965.3 1029.4,924.2Z"/>
<path fill="#4cff00" stroke="#4cff00" d="M1030.5,926.5 1045.1,924.2 1083.4,890.6 1136.4,874.8 1189.4,863.5 1197.3,862.1 1232.5,800 1206.2,800 1189.4,815 1175,862.1 1136.4,869.8 1083.4,883 1030.5,920.8 1029.4,924.2 977.5,965.3 977.5,982.8 1030.5,926.5Z"/>
<path fill="#62ff00" stroke="#62ff00" d="M983,986.3 1030.5,929.5 1062.5,924.2 1083.4,901.1 1136.4,881 1189.4,869 1224.9,862.1 1242.4,816 1261.9,800 1232.5,800 1197.3,862.1 1189.4,863.5 1136.4,874.8 1083.4,890.6 1045.1,924.2 1030.5,926.5 977.5,982.8 977.5,991.8 983,986.3Z"/>
<path fill="#77ff00" stroke="#77ff00" d="M989.3,986.3 1030.5,932.9 1079.9,924.2 1083.4,918.7 1136.4,889.1 1189.4,875.8 1242.4,864.5 1260.2,862.1 1293.2,800 1261.9,800 1242.4,816 1224.9,862.1 1189.4,869 1136.4,881 1083.4,901.1 1062.5,924.2 1030.5,929.5 983,986.3 977.5,991.8 977.5,1000 989.3,986.3Z"/>
<path fill="#8dff00" stroke="#8dff00" d="M995.7,986.3 1030.5,936.7 1083.4,926.4 1106,924.2 1136.4,900.8 1189.4,885 1242.4,872.1 1295.3,863.8 1308.6,862.1 1336.3,800 1293.2,800 1260.2,862.1 1242.4,864.5 1189.4,875.8 1136.4,889.1 1083.4,918.7 1079.9,924.2 1030.5,932.9 989.3,986.3 977.5,1000 977.5,1011.7 995.7,986.3Z"/>
<path fill="#a3ff00" stroke="#a3ff00" d="M1002,986.3 1030.5,941.2 1083.4,929.3 1134.3,924.2 1136.4,921.7 1189.4,899.1 1242.4,882.8 1295.3,871 1357.1,862.1 1383.4,800 1336.3,800 1308.6,862.1 1295.3,863.8 1242.4,872.1 1189.4,885 1136.4,900.8 1106,924.2 1083.4,926.4 1030.5,936.7 995.7,986.3 977.5,1011.7 977.5,1033 1002,986.3Z"/>
<path fill="#b8ff00" stroke="#b8ff00" d="M981.3,1048.4 1008.4,986.3 1030.5,946.6 1083.4,932.6 1136.4,926.9 1197.9,924.2 1242.4,900.7 1295.3,881 1348.3,871.4 1401.3,862.9 1407,862.1 1436.1,800 1383.4,800 1357.1,862.1 1295.3,871 1242.4,882.8 1189.4,899.1 1136.4,921.7 1134.3,924.2 1083.4,929.3 1030.5,941.2 1002,986.3 977.5,1033 977.5,1068.9 981.3,1048.4Z"/>
<path fill="#ceff00" stroke="#ceff00" d="M978.5,1296.9 978.6,1172.7 980.6,1110.6 987.2,1048.4 1014.7,986.3 1030.5,953.3 1083.4,936.3 1136.4,930.2 1189.4,927.6 1242.4,925.4 1259.7,924.2 1295.3,897 1348.3,882.9 1401.3,873.1 1454.3,864.7 1466.1,862.1 1493.3,800 1436.1,800 1407,862.1 1401.3,862.9 1348.3,871.4 1295.3,881 1242.4,900.7 1197.9,924.2 1136.4,926.9 1083.4,932.6 1030.5,946.6 1008.4,986.3 981.3,1048.4 977.5,1068.9 977.5,1359 978.5,1359 978.5,1296.9Z"/>
<path fill="#ffff00" stroke="#ffff00" d="M984.3,1296.9 984.4,1172.7 986.1,1110.6 993.2,1048.4 1021.1,986.3 1030.5,962.3 1083.4,940.7 1136.4,933.9 1189.4,931 1242.4,928.7 1295.3,924.9 1311.7,924.2 1348.3,903.4 1401.3,889.7 1454.3,877.3 1507.2,863 1511.2,862.1 1543.9,800 1493.3,800 1466.1,862.1 1454.3,864.7 1401.3,873.1 1348.3,882.9 1295.3,897 1259.7,924.2 1242.4,925.4 1189.4,927.6 1136.4,930.2 1083.4,936.3 1030.5,953.3 1014.7,986.3 987.2,1048.4 980.6,1110.6 978.6,1172.7 978.5,1359 984.3,1359 984.3,1296.9Z"/>
<path fill="#ffff00" stroke="#ffff00" d="M990.2,1296.9 990.3,1172.7 991.6,1110.6 999.1,1048.4 1027.4,986.3 1030.5,976 1083.4,945.9 1136.4,938.2 1189.4,935 1242.4,932.6 1295.3,928.6 1348.3,926.2 1401.3,924.8 1416.4,924.2 1454.3,901.9 1507.2,884.5 1560.2,874.3 1560.2,800 1543.9,800 1511.2,862.1 1507.2,863 1454.3,877.3 1401.3,889.7 1348.3,903.4 1311.7,924.2 1295.3,924.9 1242.4,928.7 1189.4,931 1136.4,933.9 1083.4,940.7 1030.5,962.3 1021.1,986.3 993.2,1048.4 986.1,1110.6 984.4,1172.7 984.3,1359 990.2,1359 990.2,1296.9Z"/>
<path fill="#ffff00" stroke="#ffff00" d="M996,1296.9 996.1,1172.7 997.1,1110.6 1005.1,1048.4 1030.5,989.1 1039.1,986.3 1083.4,952.4 1136.4,943.4 1189.4,939.6 1242.4,937 1295.3,932.8 1348.3,930.3 1401.3,928.9 1454.3,926.8 1507.2,925.8 1560.2,926.8 1560.2,874.3 1507.2,884.5 1454.3,901.9 1416.4,924.2 1401.3,924.8 1348.3,926.2 1295.3,928.6 1242.4,932.6 1189.4,935 1136.4,938.2 1083.4,945.9 1030.5,976 1027.4,986.3 999.1,1048.4 991.6,1110.6 990.3,1172.7 990.2,1359 996,1359 996,1296.9Z"/>
<path fill="#ffd900" stroke="#ffd900" d="M1001.9,1296.9 1002,1172.7 1002.7,1110.6 1011,1048.4 1030.5,995.4 1055.9,986.3 1083.4,960.9 1136.4,949.7 1189.4,945.2 1242.4,942.3 1295.3,937.9 1348.3,935.3 1401.3,933.7 1454.3,931.7 1507.2,930.6 1560.2,931.4 1560.2,926.8 1507.2,925.8 1454.3,926.8 1401.3,928.9 1348.3,930.3 1295.3,932.8 1242.4,937 1189.4,939.6 1136.4,943.4 1083.4,952.4 1039.1,986.3 1030.5,989.1 1005.1,1048.4 997.1,1110.6 996.1,1172.7 996,1359 1001.9,1359 1001.9,1296.9Z"/>
<path fill="#ffc300" stroke="#ffc300" d="M1007.7,1296.9 1007.8,1172.7 1008.2,1110.6 1016.9,1048.4 1030.5,1003.6 1072.6,986.3 1083.4,973.4 1136.4,958.1 1189.4,952.2 1242.4,948.9 1295.3,944 1348.3,941.3 1401.3,939.6 1454.3,937.5 1507.2,936.4 1560.2,937 1560.2,931.4 1507.2,930.6 1454.3,931.7 1401.3,933.7 1348.3,935.3 1295.3,937.9 1242.4,942.3 1189.4,945.2 1136.4,949.7 1083.4,960.9 1055.9,986.3 1030.5,995.4 1011,1048.4 1002.7,1110.6 1002,1172.7 1001.9,1359 1007.7,1359 1007.7,1296.9Z"/>
<path fill="#ffae00" stroke="#ffae00" d="M1013.5,1296.9 1013.7,1110.6 1022.9,1048.4 1030.5,1015.5 1083.4,988.1 1099.8,986.3 1136.4,970.2 1189.4,961.7 1242.4,957.8 1295.3,952.1 1348.3,949.1 1401.3,947.2 1454.3,945 1507.2,943.8 1560.2,944 1560.2,937 1507.2,936.4 1454.3,937.5 1401.3,939.6 1348.3,941.3 1295.3,944 1242.4,948.9 1189.4,952.2 1136.4,958.1 1083.4,973.4 1072.6,986.3 1030.5,1003.6 1016.9,1048.4 1008.2,1110.6 1007.8,1172.7 1007.7,1359 1013.5,1359 1013.5,1296.9Z"/>
<path fill="#ff9800" stroke="#ff9800" d="M1019.4,1296.9 1019.5,1172.7 1019.2,1110.6 1030.5,1037.2 1083.4,993.7 1136.4,987.5 1154.2,986.3 1189.4,976.6 1242.4,970.9 1295.3,963.6 1348.3,960.1 1454.3,955.5 1507.2,954 1560.2,953.5 1560.2,944 1507.2,943.8 1454.3,945 1401.3,947.2 1348.3,949.1 1295.3,952.1 1242.4,957.8 1189.4,961.7 1136.4,970.2 1099.8,986.3 1083.4,988.1 1030.5,1015.5 1022.9,1048.4 1013.7,1110.6 1013.5,1359 1019.4,1359 1019.4,1296.9Z"/>
<path fill="#ff8200" stroke="#ff8200" d="M1025.2,1296.9 1025.3,1172.7 1024.7,1110.6 1030.5,1060.9 1083.4,1000.8 1136.4,993.9 1189.4,989.4 1242.4,988 1285.3,986.3 1295.3,984 1348.3,978.9 1401.3,975.4 1454.3,972.7 1507.2,970.7 1560.2,968.2 1560.2,953.5 1507.2,954 1454.3,955.5 1348.3,960.1 1295.3,963.6 1242.4,970.9 1189.4,976.6 1154.2,986.3 1136.4,987.5 1083.4,993.7 1030.5,1037.2 1019.2,1110.6 1019.5,1172.7 1019.4,1359 1025.2,1359 1025.2,1296.9Z"/>
<path fill="#ff6d00" stroke="#ff6d00" d="M1030.5,1359 1032,1359 1032,1234.8 1032.4,1172.7 1030.3,1110.6 1030.5,1105.8 1056.7,1048.4 1083.4,1010.4 1136.4,1002.2 1189.4,995.6 1295.3,992.1 1401.3,990.5 1507.2,989.6 1560.2,988.4 1560.2,968.2 1507.2,970.7 1454.3,972.7 1401.3,975.4 1348.3,978.9 1295.3,984 1285.3,986.3 1242.4,988 1189.4,989.4 1136.4,993.9 1083.4,1000.8 1030.5,1060.9 1024.7,1110.6 1025.3,1172.7 1025.2,1359 1030.5,1359Z"/>
<path fill="#ff5700" stroke="#ff5700" d="M1048,1296.9 1048.2,1172.7 1047.9,1110.6 1071.9,1048.4 1083.4,1025.5 1136.4,1014.4 1189.4,1003.7 1242.4,1001.7 1295.3,1000.2 1348.3,999.6 1401.3,998.6 1454.3,998.4 1507.2,997.8 1560.2,996.1 1560.2,988.4 1507.2,989.6 1401.3,990.5 1295.3,992.1 1189.4,995.6 1136.4,1002.2 1083.4,1010.4 1056.7,1048.4 1030.5,1105.8 1030.3,1110.6 1032.4,1172.7 1032,1234.8 1032,1359 1048,1359 1048,1296.9Z"/>
<path fill="#ff4100" stroke="#ff4100" d="M1064,1296.9 1064.1,1172.7 1066.1,1110.6 1083.4,1053.7 1109,1048.4 1136.4,1037.3 1189.4,1015.2 1242.4,1012.6 1295.3,1011.8 1348.3,1011.6 1401.3,1010.3 1454.3,1010.6 1507.2,1009.8 1560.2,1006.9 1560.2,996.1 1507.2,997.8 1454.3,998.4 1401.3,998.6 1348.3,999.6 1295.3,1000.2 1242.4,1001.7 1189.4,1003.7 1136.4,1014.4 1083.4,1025.5 1071.9,1048.4 1047.9,1110.6 1048.2,1172.7 1048,1234.8 1048,1359 1064,1359 1064,1296.9Z"/>
<path fill="#ff2b00" stroke="#ff2b00" d="M1080,1296.9 1080,1172.7 1083.4,1114.7 1085.3,1110.6 1136.4,1060.5 1173.3,1048.4 1189.4,1035.9 1242.4,1031.1 1295.3,1032.6 1348.3,1033.8 1401.3,1031.5 1454.3,1033.3 1507.2,1031.7 1560.2,1025.2 1560.2,1006.9 1507.2,1009.8 1454.3,1010.6 1401.3,1010.3 1348.3,1011.6 1295.3,1011.8 1242.4,1012.6 1189.4,1015.2 1136.4,1037.3 1109,1048.4 1083.4,1053.7 1066.1,1110.6 1064.1,1172.7 1064,1359 1080,1359 1080,1296.9Z"/>
<path fill="#ff1600" stroke="#ff1600" d="M1083.4,1359 1123.5,1359 1123.4,1172.7 1131.2,1110.6 1136.4,1098.6 1189.4,1070.1 1242.4,1059.6 1295.3,1060.4 1348.3,1063 1401.3,1061.7 1454.3,1063.1 1507.2,1063.8 1560.2,1069.3 1560.2,1025.2 1507.2,1031.7 1454.3,1033.3 1401.3,1031.5 1348.3,1033.8 1295.3,1032.6 1242.4,1031.1 1189.4,1035.9 1173.3,1048.4 1136.4,1060.5 1085.3,1110.6 1083.4,1114.7 1080,1172.7 1080,1359 1083.4,1359Z"/>
<path fill="#ff0000" stroke="#ff0000" d="M1136.4,1359 1560.2,1359 1560.2,1069.3 1507.2,1063.8 1454.3,1063.1 1401.3,1061.7 1348.3,1063 1295.3,1060.4 1242.4,1059.6 1189.4,1070.1 1136.4,1098.6 1131.2,1110.6 1123.4,1172.7 1123.5,1359 1136.4,1359Z"/>
</g>
<path fill="none" stroke="#465058" stroke-width="1.05" stroke-linejoin="round" d="M1002.2,800 977.5,844.8M1027.7,800 1017.4,830.1M1011.3,848 1006.5,862.1 977.5,874.8M1071.1,800 1050,850.2M1027.3,868.3 977.5,904.9M1146.4,800 1136.4,809.7 1116.5,862.1 1083.4,868.2 1073.4,872.2M1057,878.8 1030.5,889.3 1008.6,924.2 977.5,941.3M1293.2,800 1264.8,853.4M1231.8,866.7 1189.4,875.8 1136.4,889.1 1083.4,918.7 1079.9,924.2 1030.5,932.9 989.3,986.3 977.5,1000M1560.2,874.3 1507.2,884.5 1454.3,901.9 1416.4,924.2 1401.3,924.8 1348.3,926.2 1322.8,927.3M1266.9,930.7 1242.4,932.6 1189.4,935 1136.4,938.2 1083.4,945.9 1030.5,976 1027.4,986.3 999.1,1048.4 991.6,1110.6 990.3,1172.7 990.2,1359M1560.2,968.2 1507.2,970.7 1454.3,972.7 1401.3,975.4 1348.3,978.9 1295.3,984 1285.3,986.3 1270.3,986.9M1214.4,988.7 1189.4,989.4 1136.4,993.9 1083.4,1000.8 1030.5,1060.9 1024.7,1110.6 1025.3,1172.7 1025.2,1359"/>
<g font-family='"Liberation Sans", Arial, Helvetica, sans-serif' font-weight="bold" font-size="21.0" text-anchor="middle" fill="#000">
<text x="1012.2" y="846.4">19.36</text>
<text x="1052" y="866.9">21.37</text>
<text x="1085.6" y="888.4">23.38</text>
<text x="1260" y="869.5">25.38</text>
<text x="1295" y="936">27.39</text>
<text x="1242.5" y="995">29.39</text>
</g>
<rect x="977.5" y="800" width="582.7" height="559" fill="none" stroke="#000" stroke-width="4.2"/>
<g stroke="#000"><line x1="977.5" y1="1359" x2="977.5" y2="1364.2" stroke-width="3.2"/><line x1="1030.5" y1="1359" x2="1030.5" y2="1369.3" stroke-width="4.1"/><line x1="1083.4" y1="1359" x2="1083.4" y2="1364.2" stroke-width="3.2"/><line x1="1136.4" y1="1359" x2="1136.4" y2="1369.3" stroke-width="4.1"/><line x1="1189.4" y1="1359" x2="1189.4" y2="1364.2" stroke-width="3.2"/><line x1="1242.4" y1="1359" x2="1242.4" y2="1369.3" stroke-width="4.1"/><line x1="1295.3" y1="1359" x2="1295.3" y2="1364.2" stroke-width="3.2"/><line x1="1348.3" y1="1359" x2="1348.3" y2="1369.3" stroke-width="4.1"/><line x1="1401.3" y1="1359" x2="1401.3" y2="1364.2" stroke-width="3.2"/><line x1="1454.3" y1="1359" x2="1454.3" y2="1369.3" stroke-width="4.1"/><line x1="1507.2" y1="1359" x2="1507.2" y2="1364.2" stroke-width="3.2"/><line x1="1560.2" y1="1359" x2="1560.2" y2="1369.3" stroke-width="4.1"/><line x1="966.9" y1="1359" x2="977.5" y2="1359" stroke-width="4.2"/><rect x="972" y="1296.9" width="5.5" height="20.3" stroke="none"/><line x1="972" y1="1321.6" x2="977.5" y2="1321.6" stroke-width="2.8"/><line x1="972" y1="1329.4" x2="977.5" y2="1329.4" stroke-width="2.8"/><line x1="972" y1="1340.3" x2="977.5" y2="1340.3" stroke-width="2.8"/><line x1="966.9" y1="1296.9" x2="977.5" y2="1296.9" stroke-width="3"/><rect x="972" y="1234.8" width="5.5" height="20.3" stroke="none"/><line x1="972" y1="1259.5" x2="977.5" y2="1259.5" stroke-width="2.8"/><line x1="972" y1="1267.3" x2="977.5" y2="1267.3" stroke-width="2.8"/><line x1="972" y1="1278.2" x2="977.5" y2="1278.2" stroke-width="2.8"/><line x1="966.9" y1="1234.8" x2="977.5" y2="1234.8" stroke-width="3"/><rect x="972" y="1172.7" width="5.5" height="20.3" stroke="none"/><line x1="972" y1="1197.4" x2="977.5" y2="1197.4" stroke-width="2.8"/><line x1="972" y1="1205.2" x2="977.5" y2="1205.2" stroke-width="2.8"/><line x1="972" y1="1216.1" x2="977.5" y2="1216.1" stroke-width="2.8"/><line x1="966.9" y1="1172.7" x2="977.5" y2="1172.7" stroke-width="3"/><rect x="972" y="1110.6" width="5.5" height="20.3" stroke="none"/><line x1="972" y1="1135.3" x2="977.5" y2="1135.3" stroke-width="2.8"/><line x1="972" y1="1143.1" x2="977.5" y2="1143.1" stroke-width="2.8"/><line x1="972" y1="1154" x2="977.5" y2="1154" stroke-width="2.8"/><line x1="966.9" y1="1110.6" x2="977.5" y2="1110.6" stroke-width="3"/><rect x="972" y="1048.4" width="5.5" height="20.3" stroke="none"/><line x1="972" y1="1073.1" x2="977.5" y2="1073.1" stroke-width="2.8"/><line x1="972" y1="1081" x2="977.5" y2="1081" stroke-width="2.8"/><line x1="972" y1="1091.9" x2="977.5" y2="1091.9" stroke-width="2.8"/><line x1="966.9" y1="1048.4" x2="977.5" y2="1048.4" stroke-width="3"/><rect x="972" y="986.3" width="5.5" height="20.3" stroke="none"/><line x1="972" y1="1011" x2="977.5" y2="1011" stroke-width="2.8"/><line x1="972" y1="1018.8" x2="977.5" y2="1018.8" stroke-width="2.8"/><line x1="972" y1="1029.7" x2="977.5" y2="1029.7" stroke-width="2.8"/><line x1="966.9" y1="986.3" x2="977.5" y2="986.3" stroke-width="3"/><rect x="972" y="924.2" width="5.5" height="20.3" stroke="none"/><line x1="972" y1="948.9" x2="977.5" y2="948.9" stroke-width="2.8"/><line x1="972" y1="956.7" x2="977.5" y2="956.7" stroke-width="2.8"/><line x1="972" y1="967.6" x2="977.5" y2="967.6" stroke-width="2.8"/><line x1="966.9" y1="924.2" x2="977.5" y2="924.2" stroke-width="3"/><rect x="972" y="862.1" width="5.5" height="20.3" stroke="none"/><line x1="972" y1="886.8" x2="977.5" y2="886.8" stroke-width="2.8"/><line x1="972" y1="894.6" x2="977.5" y2="894.6" stroke-width="2.8"/><line x1="972" y1="905.5" x2="977.5" y2="905.5" stroke-width="2.8"/><line x1="966.9" y1="862.1" x2="977.5" y2="862.1" stroke-width="3"/><rect x="972" y="800" width="5.5" height="20.3" stroke="none"/><line x1="972" y1="824.7" x2="977.5" y2="824.7" stroke-width="2.8"/><line x1="972" y1="832.5" x2="977.5" y2="832.5" stroke-width="2.8"/><line x1="972" y1="843.4" x2="977.5" y2="843.4" stroke-width="2.8"/><line x1="966.9" y1="800" x2="977.5" y2="800" stroke-width="4.2"/></g>
<g font-family='"Liberation Sans", Arial, Helvetica, sans-serif' font-weight="bold" font-size="23.3" fill="#000">
<text x="1030.5" y="1395.7" text-anchor="middle">0.5</text>
<text x="1136.4" y="1395.7" text-anchor="middle">1.0</text>
<text x="1242.4" y="1395.7" text-anchor="middle">1.5</text>
<text x="1348.3" y="1395.7" text-anchor="middle">2.0</text>
<text x="1454.3" y="1395.7" text-anchor="middle">2.5</text>
<text x="1560.2" y="1395.7" text-anchor="middle">3.0</text>
<text x="959" y="1367.6" text-anchor="end">10<tspan font-size="16.3" dy="-9.9">10</tspan></text>
<text x="959" y="1305.5" text-anchor="end">10<tspan font-size="16.3" dy="-9.9">11</tspan></text>
<text x="959" y="1243.4" text-anchor="end">10<tspan font-size="16.3" dy="-9.9">12</tspan></text>
<text x="959" y="1181.3" text-anchor="end">10<tspan font-size="16.3" dy="-9.9">13</tspan></text>
<text x="959" y="1119.2" text-anchor="end">10<tspan font-size="16.3" dy="-9.9">14</tspan></text>
<text x="959" y="1057" text-anchor="end">10<tspan font-size="16.3" dy="-9.9">15</tspan></text>
<text x="959" y="994.9" text-anchor="end">10<tspan font-size="16.3" dy="-9.9">16</tspan></text>
<text x="959" y="932.8" text-anchor="end">10<tspan font-size="16.3" dy="-9.9">17</tspan></text>
<text x="959" y="870.7" text-anchor="end">10<tspan font-size="16.3" dy="-9.9">18</tspan></text>
<text x="959" y="808.6" text-anchor="end">10<tspan font-size="16.3" dy="-9.9">19</tspan></text>
</g>
<rect x="1573.7" y="799.6" width="62" height="13" fill="#fff"/>
<rect x="1573.7" y="810.80" width="62" height="12.12" fill="#ff0000"/>
<rect x="1573.7" y="821.92" width="62" height="12.12" fill="#ff1600"/>
<rect x="1573.7" y="833.04" width="62" height="12.12" fill="#ff2b00"/>
<rect x="1573.7" y="844.16" width="62" height="12.12" fill="#ff4100"/>
<rect x="1573.7" y="855.28" width="62" height="12.12" fill="#ff5700"/>
<rect x="1573.7" y="866.40" width="62" height="12.12" fill="#ff6d00"/>
<rect x="1573.7" y="877.52" width="62" height="12.12" fill="#ff8200"/>
<rect x="1573.7" y="888.65" width="62" height="12.12" fill="#ff9800"/>
<rect x="1573.7" y="899.77" width="62" height="12.12" fill="#ffae00"/>
<rect x="1573.7" y="910.89" width="62" height="12.12" fill="#ffc300"/>
<rect x="1573.7" y="922.01" width="62" height="12.12" fill="#ffd900"/>
<rect x="1573.7" y="933.13" width="62" height="12.12" fill="#ffff00"/>
<rect x="1573.7" y="944.25" width="62" height="12.12" fill="#ffff00"/>
<rect x="1573.7" y="955.37" width="62" height="12.12" fill="#ffff00"/>
<rect x="1573.7" y="966.49" width="62" height="12.12" fill="#ceff00"/>
<rect x="1573.7" y="977.61" width="62" height="12.12" fill="#b8ff00"/>
<rect x="1573.7" y="988.73" width="62" height="12.12" fill="#a3ff00"/>
<rect x="1573.7" y="999.85" width="62" height="12.12" fill="#8dff00"/>
<rect x="1573.7" y="1010.97" width="62" height="12.12" fill="#77ff00"/>
<rect x="1573.7" y="1022.10" width="62" height="12.12" fill="#62ff00"/>
<rect x="1573.7" y="1033.22" width="62" height="12.12" fill="#4cff00"/>
<rect x="1573.7" y="1044.34" width="62" height="12.12" fill="#36ff00"/>
<rect x="1573.7" y="1055.46" width="62" height="12.12" fill="#21ff00"/>
<rect x="1573.7" y="1066.58" width="62" height="12.12" fill="#00ff00"/>
<rect x="1573.7" y="1077.70" width="62" height="12.12" fill="#00ff00"/>
<rect x="1573.7" y="1088.82" width="62" height="12.12" fill="#00ff21"/>
<rect x="1573.7" y="1099.94" width="62" height="12.12" fill="#00ff36"/>
<rect x="1573.7" y="1111.06" width="62" height="12.12" fill="#00ff4c"/>
<rect x="1573.7" y="1122.18" width="62" height="12.12" fill="#00ff62"/>
<rect x="1573.7" y="1133.30" width="62" height="12.12" fill="#00ff77"/>
<rect x="1573.7" y="1144.42" width="62" height="12.12" fill="#00ff8d"/>
<rect x="1573.7" y="1155.55" width="62" height="12.12" fill="#00ffa3"/>
<rect x="1573.7" y="1166.67" width="62" height="12.12" fill="#00ffb8"/>
<rect x="1573.7" y="1177.79" width="62" height="12.12" fill="#00ffce"/>
<rect x="1573.7" y="1188.91" width="62" height="12.12" fill="#00ffff"/>
<rect x="1573.7" y="1200.03" width="62" height="12.12" fill="#00ffff"/>
<rect x="1573.7" y="1211.15" width="62" height="12.12" fill="#00ffff"/>
<rect x="1573.7" y="1222.27" width="62" height="12.12" fill="#00d9ff"/>
<rect x="1573.7" y="1233.39" width="62" height="12.12" fill="#00c3ff"/>
<rect x="1573.7" y="1244.51" width="62" height="12.12" fill="#00aeff"/>
<rect x="1573.7" y="1255.63" width="62" height="12.12" fill="#0098ff"/>
<rect x="1573.7" y="1266.75" width="62" height="12.12" fill="#0082ff"/>
<rect x="1573.7" y="1277.88" width="62" height="12.12" fill="#006dff"/>
<rect x="1573.7" y="1289.00" width="62" height="12.12" fill="#0057ff"/>
<rect x="1573.7" y="1300.12" width="62" height="12.12" fill="#0041ff"/>
<rect x="1573.7" y="1311.24" width="62" height="12.12" fill="#002bff"/>
<rect x="1573.7" y="1322.36" width="62" height="12.12" fill="#0016ff"/>
<rect x="1573.7" y="1333.48" width="62" height="12.12" fill="#0000ff"/>
<rect x="1573.7" y="1344.6" width="62" height="16.4" fill="#000"/>
<rect x="1573.7" y="799.6" width="62" height="559.6" fill="none" stroke="#000" stroke-width="3.6"/>
<g font-family='"Liberation Sans", Arial, Helvetica, sans-serif' font-weight="bold" font-size="24.3" fill="#000">
<text x="1656" y="1352.9">15.35</text>
<text x="1656" y="1286.2">17.36</text>
<text x="1656" y="1219.4">19.36</text>
<text x="1656" y="1152.7">21.37</text>
<text x="1656" y="1086">23.38</text>
<text x="1656" y="1019.3">25.38</text>
<text x="1656" y="952.5">27.39</text>
<text x="1656" y="885.8">29.39</text>
<text x="1656" y="819.1">31.40</text>
</g>
<g stroke="#000" stroke-width="2"><line x1="1636.5" y1="1344.6" x2="1646.1" y2="1344.6"/><line x1="1636.5" y1="1277.9" x2="1646.1" y2="1277.9"/><line x1="1636.5" y1="1211.1" x2="1646.1" y2="1211.1"/><line x1="1636.5" y1="1144.4" x2="1646.1" y2="1144.4"/><line x1="1636.5" y1="1077.7" x2="1646.1" y2="1077.7"/><line x1="1636.5" y1="1011" x2="1646.1" y2="1011"/><line x1="1636.5" y1="944.2" x2="1646.1" y2="944.2"/><line x1="1636.5" y1="877.5" x2="1646.1" y2="877.5"/><line x1="1636.5" y1="810.8" x2="1646.1" y2="810.8"/></g>
<text x="1604.8" y="790.2" text-anchor="middle" font-family='"Liberation Sans", Arial, Helvetica, sans-serif' font-weight="bold" font-size="34">Eta</text>
<text x="1296.6" y="756" text-anchor="middle" letter-spacing="0.7" font-family='"Liberation Serif", "Times New Roman", Times, serif' font-weight="bold" font-size="43.3">(d)</text>
<text x="1169" y="1432.5" textLength="221" lengthAdjust="spacing" font-family='"Liberation Serif", "Times New Roman", Times, serif' font-weight="bold" font-size="32.5">Thickness (μm)</text>
<text transform="translate(903.8,1253.3) rotate(-90)" textLength="386.4" lengthAdjust="spacing" font-family='"Liberation Serif", "Times New Roman", Times, serif' font-weight="bold" font-size="32">Interface Defect density cm<tspan font-size="19.8" dy="-11.5">-2</tspan></text>
</g>
</svg>
</body>
</html>
